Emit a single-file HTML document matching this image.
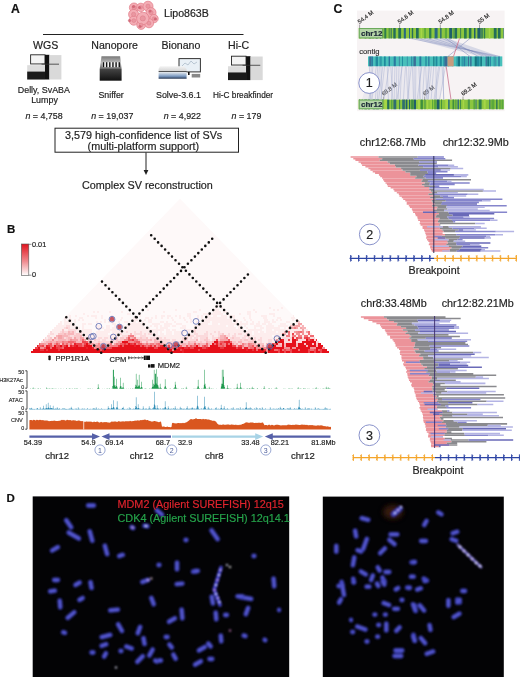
<!DOCTYPE html>
<html><head><meta charset="utf-8"><title>Figure</title>
<style>
html,body{margin:0;padding:0;background:#fff;}
body{width:520px;height:677px;overflow:hidden;position:relative;}
svg{position:absolute;left:0;top:0;display:block;}
text{font-family:"Liberation Sans",Arial,Helvetica,sans-serif;}
</style></head><body>
<svg width="520" height="677" viewBox="0 0 520 677">
<rect width="520" height="677" fill="#fff"/>
<text x="11" y="13.3" font-size="12.2" fill="#111" stroke="#111" stroke-width="0.18" font-weight="bold">A</text>
<g>
<circle cx="134" cy="7.6" r="4.6" fill="#f3adb5" stroke="#e3838e" stroke-width="0.8"/>
<circle cx="140.8" cy="7.4" r="4.2" fill="#f3adb5" stroke="#e3838e" stroke-width="0.8"/>
<circle cx="148" cy="6.2" r="5" fill="#f3adb5" stroke="#e3838e" stroke-width="0.8"/>
<circle cx="151" cy="12.6" r="5" fill="#f3adb5" stroke="#e3838e" stroke-width="0.8"/>
<circle cx="154" cy="18.6" r="4.2" fill="#f3adb5" stroke="#e3838e" stroke-width="0.8"/>
<circle cx="133.6" cy="14.4" r="5" fill="#f3adb5" stroke="#e3838e" stroke-width="0.8"/>
<circle cx="133.8" cy="20.6" r="4.6" fill="#f3adb5" stroke="#e3838e" stroke-width="0.8"/>
<circle cx="141.2" cy="25" r="4.4" fill="#f3adb5" stroke="#e3838e" stroke-width="0.8"/>
<circle cx="149" cy="23.2" r="4.6" fill="#f3adb5" stroke="#e3838e" stroke-width="0.8"/>
<circle cx="142.8" cy="18.4" r="6.2" fill="#f3adb5" stroke="#e3838e" stroke-width="0.8"/>
<circle cx="134" cy="7.6" r="1.93" fill="#ea97a1" stroke="#dd7a86" stroke-width="0.5"/>
<circle cx="140.8" cy="7.4" r="1.76" fill="#ea97a1" stroke="#dd7a86" stroke-width="0.5"/>
<circle cx="148" cy="6.2" r="2.10" fill="#ea97a1" stroke="#dd7a86" stroke-width="0.5"/>
<circle cx="151" cy="12.6" r="2.10" fill="#ea97a1" stroke="#dd7a86" stroke-width="0.5"/>
<circle cx="154" cy="18.6" r="1.76" fill="#ea97a1" stroke="#dd7a86" stroke-width="0.5"/>
<circle cx="133.6" cy="14.4" r="2.10" fill="#ea97a1" stroke="#dd7a86" stroke-width="0.5"/>
<circle cx="133.8" cy="20.6" r="1.93" fill="#ea97a1" stroke="#dd7a86" stroke-width="0.5"/>
<circle cx="141.2" cy="25" r="1.85" fill="#ea97a1" stroke="#dd7a86" stroke-width="0.5"/>
<circle cx="149" cy="23.2" r="1.93" fill="#ea97a1" stroke="#dd7a86" stroke-width="0.5"/>
<circle cx="142.8" cy="18.4" r="2.60" fill="#ea97a1" stroke="#dd7a86" stroke-width="0.5"/>
<circle cx="133.5" cy="6.5" r="1.6" fill="#c85565" opacity="0.65"/>
<circle cx="129.5" cy="20.5" r="1.6" fill="#c85565" opacity="0.65"/>
<circle cx="140" cy="26.5" r="1.6" fill="#c85565" opacity="0.65"/>
<circle cx="155.5" cy="19" r="1.6" fill="#c85565" opacity="0.65"/>
<circle cx="139.5" cy="7.5" r="1.6" fill="#c85565" opacity="0.65"/>
<circle cx="150" cy="11" r="1.6" fill="#c85565" opacity="0.65"/>
</g>
<text x="164" y="17" font-size="10.6" fill="#222" stroke="#222" stroke-width="0.18">Lipo863B</text>
<line x1="43" y1="34.5" x2="243.5" y2="34.5" stroke="#222" stroke-width="1"/>
<text x="33" y="48.8" font-size="10.6" fill="#222" stroke="#222" stroke-width="0.18">WGS</text>
<text x="91.3" y="48.8" font-size="10.6" fill="#222" stroke="#222" stroke-width="0.18">Nanopore</text>
<text x="161.5" y="48.8" font-size="10.6" fill="#222" stroke="#222" stroke-width="0.18">Bionano</text>
<text x="228" y="48.8" font-size="10.6" fill="#222" stroke="#222" stroke-width="0.18">Hi-C</text>
<rect x="27.2" y="65.17399999999999" width="17.784000000000002" height="14.326" fill="#dcdcdc"/><rect x="27.2" y="71.596" width="17.784000000000002" height="7.904000000000001" fill="#1a1a1a"/><rect x="30.62" y="54.8" width="14.364000000000003" height="9.139000000000001" fill="#f4f4f4" stroke="#222" stroke-width="0.9"/><rect x="44.984" y="54.8" width="4.446000000000005" height="24.700000000000003" fill="#111"/><rect x="49.43000000000001" y="55.099999999999994" width="11.969999999999992" height="24.400000000000002" fill="#d9d9d9"/><line x1="41.564" y1="64.18599999999999" x2="59.006" y2="64.18599999999999" stroke="#333" stroke-width="0.8"/>
<rect x="228.0" y="66.238" width="18.043999999999983" height="13.861999999999995" fill="#dcdcdc"/><rect x="228" y="72.452" width="18.043999999999983" height="7.647999999999997" fill="#1a1a1a"/><rect x="231.47" y="56.2" width="14.573999999999984" height="8.842999999999996" fill="#f4f4f4" stroke="#222" stroke-width="0.9"/><rect x="246.04399999999998" y="56.2" width="4.511000000000024" height="23.89999999999999" fill="#111"/><rect x="250.555" y="56.5" width="12.144999999999982" height="23.59999999999999" fill="#d9d9d9"/><line x1="242.57399999999998" y1="65.282" x2="260.271" y2="65.282" stroke="#333" stroke-width="0.8"/>
<defs><linearGradient id="np" x1="0" y1="0" x2="0" y2="1"><stop offset="0" stop-color="#777"/><stop offset="0.5" stop-color="#bbb"/><stop offset="1" stop-color="#666"/></linearGradient><linearGradient id="npb" x1="0" y1="0" x2="0" y2="1"><stop offset="0" stop-color="#444"/><stop offset="1" stop-color="#111"/></linearGradient></defs>
<path d="M101.5 56.2 L120.1 56.2 L121.6 69 L99.7 69 Z" fill="url(#np)"/>
<rect x="102.5" y="62.2" width="17" height="5" fill="#f2f2f2"/>
<rect x="102.8" y="62.2" width="1.4" height="5" fill="#111"/>
<rect x="105.95" y="62.2" width="1.4" height="5" fill="#111"/>
<rect x="109.1" y="62.2" width="1.4" height="5" fill="#111"/>
<rect x="112.25" y="62.2" width="1.4" height="5" fill="#111"/>
<rect x="115.39999999999999" y="62.2" width="1.4" height="5" fill="#111"/>
<rect x="118.55" y="62.2" width="1.4" height="5" fill="#111"/>
<rect x="99.7" y="69" width="21.9" height="11.7" fill="url(#npb)"/>
<rect x="179" y="58.6" width="21.4" height="13.3" fill="#e9f0f6" stroke="#333" stroke-width="1"/>
<polyline points="182,66 185,63 188,65 191,61 194,64 197,62" fill="none" stroke="#9ab" stroke-width="0.6"/>
<rect x="188" y="72" width="1.6" height="3" fill="#111"/>
<rect x="191.7" y="73.9" width="8.5" height="3.6" fill="#888"/>
<defs><linearGradient id="bn" x1="0" y1="0" x2="0" y2="1"><stop offset="0" stop-color="#f3f3f3"/><stop offset="0.35" stop-color="#d8d8d8"/><stop offset="0.4" stop-color="#333"/><stop offset="0.5" stop-color="#dde3ea"/><stop offset="0.8" stop-color="#7d9cc4"/><stop offset="1" stop-color="#2a3a55"/></linearGradient></defs>
<path d="M160 66.3 L184 66.3 L186.6 69 L186.6 78.7 L158.6 78.7 L158.6 69 Z" fill="url(#bn)"/>
<text x="17.8" y="93.1" font-size="8.9" fill="#222" stroke="#222" stroke-width="0.18">Delly, SvABA</text>
<text x="31.2" y="102.8" font-size="8.9" fill="#222" stroke="#222" stroke-width="0.18">Lumpy</text>
<text x="98.5" y="97.7" font-size="8.8" fill="#222" stroke="#222" stroke-width="0.18">Sniffer</text>
<text x="156" y="97.6" font-size="8.9" fill="#222" stroke="#222" stroke-width="0.18">Solve-3.6.1</text>
<text x="213" y="97.6" font-size="8.25" fill="#222" stroke="#222" stroke-width="0.18">Hi-C breakfinder</text>
<text x="25.4" y="118.9" font-size="8.9" fill="#222" stroke="#222" stroke-width="0.18"><tspan font-style="italic">n</tspan> = 4,758</text>
<text x="91.2" y="118.9" font-size="8.9" fill="#222" stroke="#222" stroke-width="0.18"><tspan font-style="italic">n</tspan> = 19,037</text>
<text x="163.7" y="118.9" font-size="8.9" fill="#222" stroke="#222" stroke-width="0.18"><tspan font-style="italic">n</tspan> = 4,922</text>
<text x="231.5" y="118.9" font-size="8.9" fill="#222" stroke="#222" stroke-width="0.18"><tspan font-style="italic">n</tspan> = 179</text>
<rect x="55" y="128.2" width="183.5" height="24" fill="none" stroke="#222" stroke-width="1"/>
<text x="65" y="138.5" font-size="10.8" fill="#222" stroke="#222" stroke-width="0.18">3,579 high-confidence list of SVs</text>
<text x="87.6" y="150.2" font-size="10.8" fill="#222" stroke="#222" stroke-width="0.18">(multi-platform support)</text>
<line x1="146" y1="152.5" x2="146" y2="171" stroke="#222" stroke-width="1"/>
<path d="M143.6 170 L148.4 170 L146 175 Z" fill="#222"/>
<text x="82" y="188.8" font-size="10.8" fill="#222" stroke="#222" stroke-width="0.18">Complex SV reconstruction</text>
<text x="7" y="232.7" font-size="11.5" fill="#111" stroke="#111" stroke-width="0.18" font-weight="bold">B</text>
<defs><linearGradient id="cb" x1="0" y1="0" x2="0" y2="1"><stop offset="0" stop-color="#e0141e"/><stop offset="0.55" stop-color="#f08a8f"/><stop offset="1" stop-color="#ffffff"/></linearGradient></defs>
<rect x="21.4" y="244" width="7.4" height="31.5" fill="url(#cb)" stroke="#555" stroke-width="0.6"/>
<line x1="28.8" y1="244.3" x2="31.5" y2="244.3" stroke="#444" stroke-width="0.6"/>
<line x1="28.8" y1="275.2" x2="31.5" y2="275.2" stroke="#444" stroke-width="0.6"/>
<text x="32" y="247" font-size="7.3" fill="#222" stroke="#222" stroke-width="0.18">0.01</text>
<text x="32" y="276.7" font-size="7.3" fill="#222" stroke="#222" stroke-width="0.18">0</text>
<path d="M30.0 353.2L180.0 198.7L330.0 353.2Z" fill="#fef9f9"/>
<g shape-rendering="crispEdges">
<path fill="#fdeded" d="M174.0 343.2h2.0v2h-2.0zM264.0 343.2h2.0v2h-2.0zM256.0 341.2h4.0v2h-4.0zM262.0 341.2h6.0v2h-6.0zM272.0 341.2h6.0v2h-6.0zM86.0 339.2h2.0v2h-2.0zM92.0 339.2h2.0v2h-2.0zM100.0 339.2h2.0v2h-2.0zM106.0 339.2h4.0v2h-4.0zM170.0 339.2h2.0v2h-2.0zM176.0 339.2h6.0v2h-6.0zM188.0 339.2h2.0v2h-2.0zM198.0 339.2h2.0v2h-2.0zM210.0 339.2h2.0v2h-2.0zM256.0 339.2h2.0v2h-2.0zM262.0 339.2h6.0v2h-6.0zM272.0 339.2h2.0v2h-2.0zM278.0 339.2h2.0v2h-2.0zM46.0 337.2h2.0v2h-2.0zM52.0 337.2h2.0v2h-2.0zM86.0 337.2h2.0v2h-2.0zM90.0 337.2h8.0v2h-8.0zM102.0 337.2h2.0v2h-2.0zM108.0 337.2h2.0v2h-2.0zM112.0 337.2h4.0v2h-4.0zM118.0 337.2h2.0v2h-2.0zM148.0 337.2h2.0v2h-2.0zM162.0 337.2h2.0v2h-2.0zM166.0 337.2h16.0v2h-16.0zM184.0 337.2h2.0v2h-2.0zM188.0 337.2h2.0v2h-2.0zM192.0 337.2h2.0v2h-2.0zM198.0 337.2h2.0v2h-2.0zM208.0 337.2h4.0v2h-4.0zM228.0 337.2h2.0v2h-2.0zM240.0 337.2h2.0v2h-2.0zM246.0 337.2h2.0v2h-2.0zM250.0 337.2h4.0v2h-4.0zM256.0 337.2h4.0v2h-4.0zM262.0 337.2h20.0v2h-20.0zM50.0 335.2h6.0v2h-6.0zM82.0 335.2h40.0v2h-40.0zM136.0 335.2h4.0v2h-4.0zM146.0 335.2h42.0v2h-42.0zM194.0 335.2h2.0v2h-2.0zM208.0 335.2h4.0v2h-4.0zM214.0 335.2h4.0v2h-4.0zM230.0 335.2h2.0v2h-2.0zM236.0 335.2h8.0v2h-8.0zM250.0 335.2h22.0v2h-22.0zM274.0 335.2h12.0v2h-12.0zM290.0 335.2h2.0v2h-2.0zM296.0 335.2h2.0v2h-2.0zM302.0 335.2h2.0v2h-2.0zM308.0 335.2h2.0v2h-2.0zM48.4 333.2h1.6v2h-1.6zM54.0 333.2h4.0v2h-4.0zM82.0 333.2h10.0v2h-10.0zM94.0 333.2h14.0v2h-14.0zM112.0 333.2h6.0v2h-6.0zM122.0 333.2h8.0v2h-8.0zM132.0 333.2h2.0v2h-2.0zM142.0 333.2h2.0v2h-2.0zM146.0 333.2h2.0v2h-2.0zM152.0 333.2h6.0v2h-6.0zM160.0 333.2h4.0v2h-4.0zM166.0 333.2h6.0v2h-6.0zM174.0 333.2h10.0v2h-10.0zM188.0 333.2h6.0v2h-6.0zM198.0 333.2h6.0v2h-6.0zM208.0 333.2h2.0v2h-2.0zM212.0 333.2h6.0v2h-6.0zM224.0 333.2h4.0v2h-4.0zM230.0 333.2h4.0v2h-4.0zM236.0 333.2h2.0v2h-2.0zM242.0 333.2h4.0v2h-4.0zM248.0 333.2h4.0v2h-4.0zM254.0 333.2h28.0v2h-28.0zM286.0 333.2h2.0v2h-2.0zM290.0 333.2h2.0v2h-2.0zM294.0 333.2h2.0v2h-2.0zM300.0 333.2h2.0v2h-2.0zM304.0 333.2h4.0v2h-4.0zM310.0 333.2h1.6v2h-1.6zM52.0 331.2h8.0v2h-8.0zM76.0 331.2h4.0v2h-4.0zM82.0 331.2h10.0v2h-10.0zM96.0 331.2h14.0v2h-14.0zM112.0 331.2h14.0v2h-14.0zM128.0 331.2h6.0v2h-6.0zM136.0 331.2h4.0v2h-4.0zM142.0 331.2h16.0v2h-16.0zM160.0 331.2h2.0v2h-2.0zM166.0 331.2h6.0v2h-6.0zM174.0 331.2h12.0v2h-12.0zM188.0 331.2h2.0v2h-2.0zM192.0 331.2h2.0v2h-2.0zM196.0 331.2h10.0v2h-10.0zM208.0 331.2h6.0v2h-6.0zM216.0 331.2h2.0v2h-2.0zM220.0 331.2h32.0v2h-32.0zM254.0 331.2h4.0v2h-4.0zM260.0 331.2h4.0v2h-4.0zM266.0 331.2h10.0v2h-10.0zM278.0 331.2h6.0v2h-6.0zM286.0 331.2h2.0v2h-2.0zM290.0 331.2h4.0v2h-4.0zM304.0 331.2h2.0v2h-2.0zM52.3 329.2h9.7v2h-9.7zM64.0 329.2h4.0v2h-4.0zM76.0 329.2h4.0v2h-4.0zM82.0 329.2h10.0v2h-10.0zM98.0 329.2h2.0v2h-2.0zM104.0 329.2h18.0v2h-18.0zM124.0 329.2h40.0v2h-40.0zM166.0 329.2h4.0v2h-4.0zM172.0 329.2h4.0v2h-4.0zM184.0 329.2h10.0v2h-10.0zM196.0 329.2h48.0v2h-48.0zM248.0 329.2h14.0v2h-14.0zM266.0 329.2h6.0v2h-6.0zM274.0 329.2h28.0v2h-28.0zM304.0 329.2h3.7v2h-3.7zM54.3 327.2h9.7v2h-9.7zM70.0 327.2h10.0v2h-10.0zM82.0 327.2h2.0v2h-2.0zM96.0 327.2h8.0v2h-8.0zM106.0 327.2h4.0v2h-4.0zM112.0 327.2h8.0v2h-8.0zM122.0 327.2h2.0v2h-2.0zM126.0 327.2h20.0v2h-20.0zM148.0 327.2h2.0v2h-2.0zM156.0 327.2h2.0v2h-2.0zM160.0 327.2h8.0v2h-8.0zM180.0 327.2h6.0v2h-6.0zM194.0 327.2h42.0v2h-42.0zM238.0 327.2h4.0v2h-4.0zM246.0 327.2h2.0v2h-2.0zM254.0 327.2h2.0v2h-2.0zM260.0 327.2h4.0v2h-4.0zM266.0 327.2h14.0v2h-14.0zM284.0 327.2h2.0v2h-2.0zM298.0 327.2h2.0v2h-2.0zM56.2 325.2h9.8v2h-9.8zM70.0 325.2h6.0v2h-6.0zM82.0 325.2h2.0v2h-2.0zM96.0 325.2h4.0v2h-4.0zM106.0 325.2h4.0v2h-4.0zM114.0 325.2h6.0v2h-6.0zM122.0 325.2h2.0v2h-2.0zM126.0 325.2h18.0v2h-18.0zM150.0 325.2h2.0v2h-2.0zM154.0 325.2h4.0v2h-4.0zM160.0 325.2h2.0v2h-2.0zM164.0 325.2h6.0v2h-6.0zM172.0 325.2h4.0v2h-4.0zM182.0 325.2h4.0v2h-4.0zM194.0 325.2h32.0v2h-32.0zM228.0 325.2h6.0v2h-6.0zM238.0 325.2h4.0v2h-4.0zM244.0 325.2h2.0v2h-2.0zM254.0 325.2h8.0v2h-8.0zM266.0 325.2h8.0v2h-8.0zM278.0 325.2h10.0v2h-10.0zM300.0 325.2h2.0v2h-2.0zM58.2 323.2h3.8v2h-3.8zM64.0 323.2h10.0v2h-10.0zM82.0 323.2h4.0v2h-4.0zM88.0 323.2h4.0v2h-4.0zM112.0 323.2h4.0v2h-4.0zM128.0 323.2h18.0v2h-18.0zM152.0 323.2h8.0v2h-8.0zM164.0 323.2h8.0v2h-8.0zM176.0 323.2h6.0v2h-6.0zM200.0 323.2h8.0v2h-8.0zM212.0 323.2h6.0v2h-6.0zM220.0 323.2h28.0v2h-28.0zM250.0 323.2h4.0v2h-4.0zM256.0 323.2h4.0v2h-4.0zM262.0 323.2h4.0v2h-4.0zM268.0 323.2h4.0v2h-4.0zM280.0 323.2h6.0v2h-6.0zM290.0 323.2h2.0v2h-2.0zM296.0 323.2h2.0v2h-2.0zM60.1 321.2h1.9v2h-1.9zM64.0 321.2h8.0v2h-8.0zM74.0 321.2h2.0v2h-2.0zM96.0 321.2h2.0v2h-2.0zM100.0 321.2h2.0v2h-2.0zM104.0 321.2h2.0v2h-2.0zM108.0 321.2h2.0v2h-2.0zM112.0 321.2h2.0v2h-2.0zM118.0 321.2h2.0v2h-2.0zM124.0 321.2h4.0v2h-4.0zM132.0 321.2h4.0v2h-4.0zM138.0 321.2h2.0v2h-2.0zM142.0 321.2h2.0v2h-2.0zM148.0 321.2h4.0v2h-4.0zM160.0 321.2h4.0v2h-4.0zM166.0 321.2h2.0v2h-2.0zM174.0 321.2h2.0v2h-2.0zM186.0 321.2h2.0v2h-2.0zM190.0 321.2h2.0v2h-2.0zM196.0 321.2h4.0v2h-4.0zM202.0 321.2h8.0v2h-8.0zM212.0 321.2h20.0v2h-20.0zM234.0 321.2h4.0v2h-4.0zM240.0 321.2h2.0v2h-2.0zM246.0 321.2h2.0v2h-2.0zM252.0 321.2h2.0v2h-2.0zM258.0 321.2h2.0v2h-2.0zM264.0 321.2h6.0v2h-6.0zM272.0 321.2h4.0v2h-4.0zM286.0 321.2h4.0v2h-4.0zM64.0 319.2h2.0v2h-2.0zM68.0 319.2h4.0v2h-4.0zM74.0 319.2h2.0v2h-2.0zM78.0 319.2h2.0v2h-2.0zM82.0 319.2h2.0v2h-2.0zM104.0 319.2h2.0v2h-2.0zM112.0 319.2h2.0v2h-2.0zM120.0 319.2h2.0v2h-2.0zM132.0 319.2h6.0v2h-6.0zM144.0 319.2h2.0v2h-2.0zM148.0 319.2h4.0v2h-4.0zM172.0 319.2h2.0v2h-2.0zM184.0 319.2h2.0v2h-2.0zM190.0 319.2h2.0v2h-2.0zM202.0 319.2h30.0v2h-30.0zM236.0 319.2h2.0v2h-2.0zM244.0 319.2h2.0v2h-2.0zM250.0 319.2h2.0v2h-2.0zM264.0 319.2h4.0v2h-4.0zM272.0 319.2h2.0v2h-2.0zM276.0 319.2h2.0v2h-2.0zM280.0 319.2h2.0v2h-2.0zM292.0 319.2h2.0v2h-2.0zM64.0 317.2h3.0v2h-3.0zM69.0 317.2h2.0v2h-2.0zM79.0 317.2h4.0v2h-4.0zM95.0 317.2h2.0v2h-2.0zM101.0 317.2h2.0v2h-2.0zM111.0 317.2h2.0v2h-2.0zM121.0 317.2h2.0v2h-2.0zM133.0 317.2h4.0v2h-4.0zM145.0 317.2h4.0v2h-4.0zM151.0 317.2h2.0v2h-2.0zM155.0 317.2h2.0v2h-2.0zM161.0 317.2h2.0v2h-2.0zM167.0 317.2h2.0v2h-2.0zM171.0 317.2h2.0v2h-2.0zM179.0 317.2h2.0v2h-2.0zM183.0 317.2h2.0v2h-2.0zM189.0 317.2h2.0v2h-2.0zM197.0 317.2h2.0v2h-2.0zM201.0 317.2h2.0v2h-2.0zM205.0 317.2h22.0v2h-22.0zM229.0 317.2h2.0v2h-2.0zM233.0 317.2h2.0v2h-2.0zM243.0 317.2h2.0v2h-2.0zM249.0 317.2h2.0v2h-2.0zM263.0 317.2h4.0v2h-4.0zM277.0 317.2h4.0v2h-4.0zM291.0 317.2h4.0v2h-4.0zM65.9 315.2h1.1v2h-1.1zM69.0 315.2h2.0v2h-2.0zM75.0 315.2h2.0v2h-2.0zM87.0 315.2h2.0v2h-2.0zM91.0 315.2h6.0v2h-6.0zM101.0 315.2h2.0v2h-2.0zM111.0 315.2h2.0v2h-2.0zM139.0 315.2h2.0v2h-2.0zM155.0 315.2h2.0v2h-2.0zM161.0 315.2h4.0v2h-4.0zM167.0 315.2h4.0v2h-4.0zM175.0 315.2h2.0v2h-2.0zM179.0 315.2h2.0v2h-2.0zM187.0 315.2h4.0v2h-4.0zM197.0 315.2h2.0v2h-2.0zM201.0 315.2h2.0v2h-2.0zM207.0 315.2h4.0v2h-4.0zM213.0 315.2h4.0v2h-4.0zM221.0 315.2h6.0v2h-6.0zM229.0 315.2h6.0v2h-6.0zM249.0 315.2h2.0v2h-2.0zM261.0 315.2h6.0v2h-6.0zM273.0 315.2h2.0v2h-2.0zM293.0 315.2h1.1v2h-1.1zM83.0 313.2h2.0v2h-2.0zM127.0 313.2h4.0v2h-4.0zM187.0 313.2h4.0v2h-4.0zM203.0 313.2h20.0v2h-20.0zM227.0 313.2h2.0v2h-2.0zM239.0 313.2h2.0v2h-2.0zM247.0 313.2h4.0v2h-4.0zM269.0 313.2h6.0v2h-6.0zM93.0 311.2h2.0v2h-2.0zM97.0 311.2h2.0v2h-2.0zM109.0 311.2h2.0v2h-2.0zM121.0 311.2h2.0v2h-2.0zM163.0 311.2h2.0v2h-2.0zM193.0 311.2h4.0v2h-4.0zM213.0 311.2h8.0v2h-8.0zM223.0 311.2h4.0v2h-4.0zM247.0 311.2h4.0v2h-4.0zM255.0 311.2h2.0v2h-2.0zM147.0 309.2h2.0v2h-2.0zM175.0 309.2h2.0v2h-2.0zM199.0 309.2h2.0v2h-2.0zM215.0 309.2h4.0v2h-4.0zM223.0 309.2h2.0v2h-2.0zM253.0 309.2h2.0v2h-2.0zM273.0 309.2h2.0v2h-2.0zM277.0 309.2h2.0v2h-2.0zM215.0 307.2h2.0v2h-2.0zM221.0 307.2h2.0v2h-2.0zM269.0 307.2h2.0v2h-2.0zM281.0 307.2h2.0v2h-2.0zM217.0 305.2h2.0v2h-2.0z"/>
<path fill="#fbdadc" d="M104.0 345.2h2.0v2h-2.0zM176.0 345.2h2.0v2h-2.0zM264.0 345.2h2.0v2h-2.0zM104.0 343.2h2.0v2h-2.0zM112.0 343.2h2.0v2h-2.0zM166.0 343.2h2.0v2h-2.0zM176.0 343.2h2.0v2h-2.0zM238.0 343.2h2.0v2h-2.0zM256.0 343.2h2.0v2h-2.0zM270.0 343.2h2.0v2h-2.0zM40.7 341.2h3.3v2h-3.3zM92.0 341.2h6.0v2h-6.0zM100.0 341.2h10.0v2h-10.0zM112.0 341.2h4.0v2h-4.0zM142.0 341.2h4.0v2h-4.0zM148.0 341.2h6.0v2h-6.0zM160.0 341.2h28.0v2h-28.0zM196.0 341.2h4.0v2h-4.0zM202.0 341.2h4.0v2h-4.0zM236.0 341.2h2.0v2h-2.0zM242.0 341.2h6.0v2h-6.0zM260.0 341.2h2.0v2h-2.0zM268.0 341.2h4.0v2h-4.0zM284.0 341.2h8.0v2h-8.0zM296.0 341.2h6.0v2h-6.0zM316.0 341.2h3.3v2h-3.3zM44.0 339.2h4.0v2h-4.0zM90.0 339.2h2.0v2h-2.0zM96.0 339.2h4.0v2h-4.0zM102.0 339.2h4.0v2h-4.0zM110.0 339.2h6.0v2h-6.0zM118.0 339.2h2.0v2h-2.0zM152.0 339.2h2.0v2h-2.0zM158.0 339.2h12.0v2h-12.0zM172.0 339.2h4.0v2h-4.0zM182.0 339.2h2.0v2h-2.0zM186.0 339.2h2.0v2h-2.0zM190.0 339.2h6.0v2h-6.0zM200.0 339.2h4.0v2h-4.0zM208.0 339.2h2.0v2h-2.0zM212.0 339.2h2.0v2h-2.0zM230.0 339.2h10.0v2h-10.0zM242.0 339.2h2.0v2h-2.0zM248.0 339.2h4.0v2h-4.0zM254.0 339.2h2.0v2h-2.0zM258.0 339.2h4.0v2h-4.0zM268.0 339.2h4.0v2h-4.0zM274.0 339.2h2.0v2h-2.0zM284.0 339.2h4.0v2h-4.0zM290.0 339.2h2.0v2h-2.0zM298.0 339.2h8.0v2h-8.0zM314.0 339.2h2.0v2h-2.0zM44.6 337.2h1.4v2h-1.4zM48.0 337.2h2.0v2h-2.0zM64.0 337.2h2.0v2h-2.0zM72.0 337.2h2.0v2h-2.0zM84.0 337.2h2.0v2h-2.0zM88.0 337.2h2.0v2h-2.0zM98.0 337.2h4.0v2h-4.0zM104.0 337.2h4.0v2h-4.0zM110.0 337.2h2.0v2h-2.0zM124.0 337.2h2.0v2h-2.0zM136.0 337.2h4.0v2h-4.0zM142.0 337.2h4.0v2h-4.0zM150.0 337.2h12.0v2h-12.0zM164.0 337.2h2.0v2h-2.0zM182.0 337.2h2.0v2h-2.0zM190.0 337.2h2.0v2h-2.0zM194.0 337.2h4.0v2h-4.0zM200.0 337.2h6.0v2h-6.0zM212.0 337.2h6.0v2h-6.0zM230.0 337.2h2.0v2h-2.0zM234.0 337.2h6.0v2h-6.0zM242.0 337.2h4.0v2h-4.0zM248.0 337.2h2.0v2h-2.0zM254.0 337.2h2.0v2h-2.0zM260.0 337.2h2.0v2h-2.0zM282.0 337.2h10.0v2h-10.0zM294.0 337.2h2.0v2h-2.0zM302.0 337.2h2.0v2h-2.0zM310.0 337.2h5.4v2h-5.4zM46.5 335.2h3.5v2h-3.5zM70.0 335.2h4.0v2h-4.0zM122.0 335.2h6.0v2h-6.0zM134.0 335.2h2.0v2h-2.0zM140.0 335.2h6.0v2h-6.0zM188.0 335.2h6.0v2h-6.0zM196.0 335.2h12.0v2h-12.0zM212.0 335.2h2.0v2h-2.0zM218.0 335.2h2.0v2h-2.0zM226.0 335.2h4.0v2h-4.0zM232.0 335.2h4.0v2h-4.0zM244.0 335.2h6.0v2h-6.0zM50.0 333.2h4.0v2h-4.0zM74.0 333.2h2.0v2h-2.0zM80.0 333.2h2.0v2h-2.0zM120.0 333.2h2.0v2h-2.0zM134.0 333.2h8.0v2h-8.0zM144.0 333.2h2.0v2h-2.0zM148.0 333.2h4.0v2h-4.0zM194.0 333.2h4.0v2h-4.0zM204.0 333.2h4.0v2h-4.0zM210.0 333.2h2.0v2h-2.0zM218.0 333.2h4.0v2h-4.0zM228.0 333.2h2.0v2h-2.0zM234.0 333.2h2.0v2h-2.0zM238.0 333.2h4.0v2h-4.0zM246.0 333.2h2.0v2h-2.0zM50.4 331.2h1.6v2h-1.6zM60.0 331.2h2.0v2h-2.0zM64.0 331.2h4.0v2h-4.0zM74.0 331.2h2.0v2h-2.0zM80.0 331.2h2.0v2h-2.0zM126.0 331.2h2.0v2h-2.0zM134.0 331.2h2.0v2h-2.0zM140.0 331.2h2.0v2h-2.0zM194.0 331.2h2.0v2h-2.0zM206.0 331.2h2.0v2h-2.0zM214.0 331.2h2.0v2h-2.0zM218.0 331.2h2.0v2h-2.0zM68.0 329.2h8.0v2h-8.0zM194.0 329.2h2.0v2h-2.0zM64.0 327.2h2.0v2h-2.0zM68.0 327.2h2.0v2h-2.0zM66.0 325.2h4.0v2h-4.0zM296.0 321.2h2.0v2h-2.0zM296.0 319.2h2.0v2h-2.0z"/>
<path fill="#f9c8ca" d="M100.0 345.2h2.0v2h-2.0zM106.0 345.2h2.0v2h-2.0zM164.0 345.2h2.0v2h-2.0zM260.0 345.2h2.0v2h-2.0zM270.0 345.2h2.0v2h-2.0zM60.0 343.2h2.0v2h-2.0zM94.0 343.2h2.0v2h-2.0zM100.0 343.2h4.0v2h-4.0zM106.0 343.2h2.0v2h-2.0zM164.0 343.2h2.0v2h-2.0zM178.0 343.2h4.0v2h-4.0zM186.0 343.2h2.0v2h-2.0zM210.0 343.2h2.0v2h-2.0zM234.0 343.2h2.0v2h-2.0zM240.0 343.2h2.0v2h-2.0zM260.0 343.2h4.0v2h-4.0zM280.0 343.2h2.0v2h-2.0zM304.0 343.2h2.0v2h-2.0zM312.0 343.2h2.0v2h-2.0zM316.0 343.2h2.0v2h-2.0zM44.0 341.2h2.0v2h-2.0zM98.0 341.2h2.0v2h-2.0zM110.0 341.2h2.0v2h-2.0zM116.0 341.2h2.0v2h-2.0zM190.0 341.2h4.0v2h-4.0zM200.0 341.2h2.0v2h-2.0zM208.0 341.2h4.0v2h-4.0zM232.0 341.2h4.0v2h-4.0zM248.0 341.2h6.0v2h-6.0zM48.0 339.2h4.0v2h-4.0zM54.0 339.2h4.0v2h-4.0zM66.0 339.2h2.0v2h-2.0zM78.0 339.2h2.0v2h-2.0zM88.0 339.2h2.0v2h-2.0zM94.0 339.2h2.0v2h-2.0zM116.0 339.2h2.0v2h-2.0zM120.0 339.2h4.0v2h-4.0zM140.0 339.2h10.0v2h-10.0zM156.0 339.2h2.0v2h-2.0zM204.0 339.2h4.0v2h-4.0zM214.0 339.2h2.0v2h-2.0zM218.0 339.2h2.0v2h-2.0zM240.0 339.2h2.0v2h-2.0zM244.0 339.2h4.0v2h-4.0zM252.0 339.2h2.0v2h-2.0zM50.0 337.2h2.0v2h-2.0zM56.0 337.2h2.0v2h-2.0zM66.0 337.2h2.0v2h-2.0zM76.0 337.2h4.0v2h-4.0zM116.0 337.2h2.0v2h-2.0zM120.0 337.2h4.0v2h-4.0zM140.0 337.2h2.0v2h-2.0zM146.0 337.2h2.0v2h-2.0zM186.0 337.2h2.0v2h-2.0zM206.0 337.2h2.0v2h-2.0zM218.0 337.2h2.0v2h-2.0zM232.0 337.2h2.0v2h-2.0zM68.0 335.2h2.0v2h-2.0zM74.0 335.2h6.0v2h-6.0zM58.0 333.2h6.0v2h-6.0zM66.0 333.2h2.0v2h-2.0zM76.0 333.2h4.0v2h-4.0zM222.0 333.2h2.0v2h-2.0zM62.0 331.2h2.0v2h-2.0zM70.0 331.2h2.0v2h-2.0zM62.0 329.2h2.0v2h-2.0zM66.0 327.2h2.0v2h-2.0zM288.0 327.2h4.0v2h-4.0zM290.0 325.2h4.0v2h-4.0zM298.0 321.2h1.9v2h-1.9z"/>
<path fill="#f7b5b9" d="M170.0 345.2h2.0v2h-2.0zM182.0 345.2h4.0v2h-4.0zM200.0 345.2h2.0v2h-2.0zM208.0 345.2h2.0v2h-2.0zM236.0 345.2h2.0v2h-2.0zM244.0 345.2h4.0v2h-4.0zM254.0 345.2h2.0v2h-2.0zM266.0 345.2h2.0v2h-2.0zM276.0 345.2h6.0v2h-6.0zM284.0 345.2h2.0v2h-2.0zM296.0 345.2h2.0v2h-2.0zM306.0 345.2h2.0v2h-2.0zM316.0 345.2h2.0v2h-2.0zM46.0 343.2h2.0v2h-2.0zM52.0 343.2h2.0v2h-2.0zM96.0 343.2h2.0v2h-2.0zM108.0 343.2h2.0v2h-2.0zM162.0 343.2h2.0v2h-2.0zM170.0 343.2h2.0v2h-2.0zM182.0 343.2h4.0v2h-4.0zM190.0 343.2h4.0v2h-4.0zM196.0 343.2h2.0v2h-2.0zM200.0 343.2h6.0v2h-6.0zM208.0 343.2h2.0v2h-2.0zM236.0 343.2h2.0v2h-2.0zM246.0 343.2h2.0v2h-2.0zM254.0 343.2h2.0v2h-2.0zM258.0 343.2h2.0v2h-2.0zM266.0 343.2h4.0v2h-4.0zM278.0 343.2h2.0v2h-2.0zM284.0 343.2h2.0v2h-2.0zM296.0 343.2h2.0v2h-2.0zM46.0 341.2h4.0v2h-4.0zM52.0 341.2h4.0v2h-4.0zM76.0 341.2h6.0v2h-6.0zM88.0 341.2h4.0v2h-4.0zM140.0 341.2h2.0v2h-2.0zM146.0 341.2h2.0v2h-2.0zM154.0 341.2h6.0v2h-6.0zM188.0 341.2h2.0v2h-2.0zM194.0 341.2h2.0v2h-2.0zM206.0 341.2h2.0v2h-2.0zM212.0 341.2h2.0v2h-2.0zM238.0 341.2h4.0v2h-4.0zM254.0 341.2h2.0v2h-2.0zM42.6 339.2h1.4v2h-1.4zM58.0 339.2h8.0v2h-8.0zM68.0 339.2h2.0v2h-2.0zM138.0 339.2h2.0v2h-2.0zM150.0 339.2h2.0v2h-2.0zM154.0 339.2h2.0v2h-2.0zM184.0 339.2h2.0v2h-2.0zM196.0 339.2h2.0v2h-2.0zM62.0 337.2h2.0v2h-2.0zM68.0 337.2h4.0v2h-4.0zM130.0 337.2h2.0v2h-2.0zM220.0 337.2h4.0v2h-4.0zM56.0 335.2h2.0v2h-2.0zM62.0 335.2h6.0v2h-6.0zM80.0 335.2h2.0v2h-2.0zM220.0 335.2h4.0v2h-4.0zM64.0 333.2h2.0v2h-2.0zM68.0 333.2h6.0v2h-6.0zM130.0 333.2h2.0v2h-2.0zM284.0 333.2h2.0v2h-2.0zM68.0 331.2h2.0v2h-2.0zM72.0 331.2h2.0v2h-2.0zM284.0 331.2h2.0v2h-2.0zM302.0 327.2h3.7v2h-3.7zM294.0 325.2h2.0v2h-2.0zM302.0 325.2h1.8v2h-1.8z"/>
<path fill="#f5a3a7" d="M104.0 347.2h2.0v2h-2.0zM242.0 347.2h2.0v2h-2.0zM44.0 345.2h2.0v2h-2.0zM68.0 345.2h2.0v2h-2.0zM92.0 345.2h2.0v2h-2.0zM178.0 345.2h2.0v2h-2.0zM188.0 345.2h2.0v2h-2.0zM262.0 345.2h2.0v2h-2.0zM44.0 343.2h2.0v2h-2.0zM68.0 343.2h2.0v2h-2.0zM72.0 343.2h2.0v2h-2.0zM90.0 343.2h4.0v2h-4.0zM114.0 343.2h2.0v2h-2.0zM144.0 343.2h2.0v2h-2.0zM148.0 343.2h2.0v2h-2.0zM154.0 343.2h2.0v2h-2.0zM160.0 343.2h2.0v2h-2.0zM168.0 343.2h2.0v2h-2.0zM172.0 343.2h2.0v2h-2.0zM188.0 343.2h2.0v2h-2.0zM232.0 343.2h2.0v2h-2.0zM244.0 343.2h2.0v2h-2.0zM252.0 343.2h2.0v2h-2.0zM50.0 341.2h2.0v2h-2.0zM58.0 341.2h4.0v2h-4.0zM118.0 341.2h4.0v2h-4.0zM72.0 339.2h6.0v2h-6.0zM80.0 339.2h2.0v2h-2.0zM84.0 339.2h2.0v2h-2.0zM220.0 339.2h8.0v2h-8.0zM54.0 337.2h2.0v2h-2.0zM58.0 337.2h4.0v2h-4.0zM74.0 337.2h2.0v2h-2.0zM80.0 337.2h4.0v2h-4.0zM126.0 337.2h2.0v2h-2.0zM132.0 337.2h2.0v2h-2.0zM224.0 337.2h2.0v2h-2.0zM58.0 335.2h4.0v2h-4.0zM224.0 335.2h2.0v2h-2.0zM294.0 331.2h2.0v2h-2.0zM306.0 331.2h2.0v2h-2.0zM302.0 329.2h2.0v2h-2.0zM292.0 327.2h2.0v2h-2.0zM296.0 327.2h2.0v2h-2.0zM300.0 327.2h2.0v2h-2.0zM296.0 325.2h4.0v2h-4.0zM298.0 323.2h3.8v2h-3.8z"/>
<path fill="#f39195" d="M266.0 351.2h2.0v2h-2.0zM172.0 349.2h2.0v2h-2.0zM266.0 349.2h2.0v2h-2.0zM40.0 347.2h4.0v2h-4.0zM94.0 347.2h4.0v2h-4.0zM248.0 347.2h2.0v2h-2.0zM256.0 347.2h10.0v2h-10.0zM284.0 347.2h6.0v2h-6.0zM292.0 347.2h4.0v2h-4.0zM310.0 347.2h6.0v2h-6.0zM322.0 347.2h3.1v2h-3.1zM52.0 345.2h2.0v2h-2.0zM94.0 345.2h6.0v2h-6.0zM102.0 345.2h2.0v2h-2.0zM108.0 345.2h2.0v2h-2.0zM156.0 345.2h2.0v2h-2.0zM166.0 345.2h2.0v2h-2.0zM198.0 345.2h2.0v2h-2.0zM268.0 345.2h2.0v2h-2.0zM40.0 343.2h4.0v2h-4.0zM54.0 343.2h2.0v2h-2.0zM64.0 343.2h2.0v2h-2.0zM98.0 343.2h2.0v2h-2.0zM118.0 343.2h2.0v2h-2.0zM142.0 343.2h2.0v2h-2.0zM198.0 343.2h2.0v2h-2.0zM250.0 343.2h2.0v2h-2.0zM56.0 341.2h2.0v2h-2.0zM64.0 341.2h4.0v2h-4.0zM130.0 341.2h4.0v2h-4.0zM52.0 339.2h2.0v2h-2.0zM70.0 339.2h2.0v2h-2.0zM124.0 339.2h4.0v2h-4.0zM276.0 339.2h2.0v2h-2.0zM128.0 335.2h2.0v2h-2.0zM282.0 333.2h2.0v2h-2.0zM296.0 333.2h4.0v2h-4.0zM302.0 333.2h2.0v2h-2.0zM296.0 331.2h2.0v2h-2.0zM302.0 331.2h2.0v2h-2.0z"/>
<path fill="#f27e84" d="M98.0 347.2h2.0v2h-2.0zM110.0 345.2h8.0v2h-8.0zM146.0 345.2h2.0v2h-2.0zM152.0 345.2h2.0v2h-2.0zM192.0 345.2h2.0v2h-2.0zM224.0 345.2h2.0v2h-2.0zM242.0 345.2h2.0v2h-2.0zM248.0 345.2h4.0v2h-4.0zM256.0 345.2h4.0v2h-4.0zM58.0 343.2h2.0v2h-2.0zM82.0 343.2h2.0v2h-2.0zM110.0 343.2h2.0v2h-2.0zM116.0 343.2h2.0v2h-2.0zM136.0 343.2h2.0v2h-2.0zM146.0 343.2h2.0v2h-2.0zM150.0 343.2h4.0v2h-4.0zM156.0 343.2h2.0v2h-2.0zM224.0 343.2h2.0v2h-2.0zM242.0 343.2h2.0v2h-2.0zM248.0 343.2h2.0v2h-2.0zM62.0 341.2h2.0v2h-2.0zM74.0 341.2h2.0v2h-2.0zM128.0 341.2h2.0v2h-2.0zM218.0 341.2h2.0v2h-2.0zM134.0 339.2h4.0v2h-4.0zM134.0 337.2h2.0v2h-2.0zM226.0 337.2h2.0v2h-2.0zM130.0 335.2h4.0v2h-4.0zM286.0 335.2h4.0v2h-4.0zM292.0 335.2h4.0v2h-4.0zM298.0 335.2h4.0v2h-4.0zM288.0 333.2h2.0v2h-2.0zM298.0 331.2h2.0v2h-2.0zM294.0 327.2h2.0v2h-2.0z"/>
<path fill="#f06c72" d="M256.0 349.2h2.0v2h-2.0zM274.0 349.2h4.0v2h-4.0zM282.0 349.2h2.0v2h-2.0zM286.0 349.2h4.0v2h-4.0zM298.0 349.2h2.0v2h-2.0zM310.0 349.2h4.0v2h-4.0zM318.0 349.2h2.0v2h-2.0zM50.0 347.2h2.0v2h-2.0zM62.0 347.2h2.0v2h-2.0zM250.0 347.2h4.0v2h-4.0zM266.0 347.2h2.0v2h-2.0zM82.0 345.2h2.0v2h-2.0zM158.0 345.2h2.0v2h-2.0zM180.0 345.2h2.0v2h-2.0zM194.0 345.2h2.0v2h-2.0zM202.0 345.2h2.0v2h-2.0zM206.0 345.2h2.0v2h-2.0zM218.0 345.2h4.0v2h-4.0zM48.0 343.2h2.0v2h-2.0zM66.0 343.2h2.0v2h-2.0zM70.0 343.2h2.0v2h-2.0zM158.0 343.2h2.0v2h-2.0zM194.0 343.2h2.0v2h-2.0zM206.0 343.2h2.0v2h-2.0zM214.0 343.2h2.0v2h-2.0zM218.0 343.2h2.0v2h-2.0zM222.0 343.2h2.0v2h-2.0zM228.0 343.2h2.0v2h-2.0zM274.0 343.2h2.0v2h-2.0zM68.0 341.2h6.0v2h-6.0zM134.0 341.2h2.0v2h-2.0zM230.0 341.2h2.0v2h-2.0zM82.0 339.2h2.0v2h-2.0zM298.0 337.2h2.0v2h-2.0zM304.0 335.2h4.0v2h-4.0zM310.0 335.2h3.5v2h-3.5zM308.0 333.2h2.0v2h-2.0zM288.0 331.2h2.0v2h-2.0zM300.0 331.2h2.0v2h-2.0zM308.0 331.2h1.6v2h-1.6z"/>
<path fill="#ee5a60" d="M100.0 349.2h2.0v2h-2.0zM44.0 347.2h2.0v2h-2.0zM100.0 347.2h4.0v2h-4.0zM106.0 347.2h4.0v2h-4.0zM170.0 347.2h8.0v2h-8.0zM38.0 345.2h4.0v2h-4.0zM50.0 345.2h2.0v2h-2.0zM56.0 345.2h2.0v2h-2.0zM62.0 345.2h2.0v2h-2.0zM122.0 345.2h2.0v2h-2.0zM140.0 345.2h2.0v2h-2.0zM144.0 345.2h2.0v2h-2.0zM148.0 345.2h2.0v2h-2.0zM172.0 345.2h4.0v2h-4.0zM186.0 345.2h2.0v2h-2.0zM190.0 345.2h2.0v2h-2.0zM222.0 345.2h2.0v2h-2.0zM238.0 345.2h2.0v2h-2.0zM252.0 345.2h2.0v2h-2.0zM38.7 343.2h1.3v2h-1.3zM50.0 343.2h2.0v2h-2.0zM56.0 343.2h2.0v2h-2.0zM62.0 343.2h2.0v2h-2.0zM88.0 343.2h2.0v2h-2.0zM120.0 343.2h4.0v2h-4.0zM126.0 343.2h2.0v2h-2.0zM138.0 343.2h4.0v2h-4.0zM86.0 341.2h2.0v2h-2.0zM136.0 341.2h4.0v2h-4.0zM220.0 341.2h4.0v2h-4.0zM128.0 339.2h4.0v2h-4.0zM228.0 339.2h2.0v2h-2.0zM308.0 339.2h2.0v2h-2.0zM128.0 337.2h2.0v2h-2.0zM300.0 337.2h2.0v2h-2.0zM308.0 337.2h2.0v2h-2.0z"/>
<path fill="#ec474f" d="M278.0 351.2h2.0v2h-2.0zM284.0 351.2h2.0v2h-2.0zM290.0 351.2h2.0v2h-2.0zM308.0 351.2h2.0v2h-2.0zM314.0 351.2h2.0v2h-2.0zM320.0 351.2h2.0v2h-2.0zM180.0 349.2h2.0v2h-2.0zM198.0 349.2h2.0v2h-2.0zM278.0 349.2h2.0v2h-2.0zM284.0 349.2h2.0v2h-2.0zM290.0 349.2h2.0v2h-2.0zM308.0 349.2h2.0v2h-2.0zM314.0 349.2h2.0v2h-2.0zM320.0 349.2h2.0v2h-2.0zM34.9 347.2h3.1v2h-3.1zM58.0 347.2h4.0v2h-4.0zM110.0 347.2h2.0v2h-2.0zM154.0 347.2h4.0v2h-4.0zM190.0 347.2h4.0v2h-4.0zM202.0 347.2h4.0v2h-4.0zM236.0 347.2h2.0v2h-2.0zM42.0 345.2h2.0v2h-2.0zM58.0 345.2h2.0v2h-2.0zM72.0 345.2h2.0v2h-2.0zM78.0 345.2h4.0v2h-4.0zM168.0 345.2h2.0v2h-2.0zM204.0 345.2h2.0v2h-2.0zM232.0 345.2h4.0v2h-4.0zM240.0 345.2h2.0v2h-2.0zM272.0 345.2h2.0v2h-2.0zM76.0 343.2h6.0v2h-6.0zM84.0 343.2h2.0v2h-2.0zM132.0 343.2h2.0v2h-2.0zM272.0 343.2h2.0v2h-2.0zM82.0 341.2h4.0v2h-4.0zM216.0 339.2h2.0v2h-2.0zM288.0 339.2h2.0v2h-2.0zM296.0 339.2h2.0v2h-2.0zM296.0 337.2h2.0v2h-2.0zM304.0 337.2h2.0v2h-2.0zM292.0 333.2h2.0v2h-2.0z"/>
<path fill="#ea353d" d="M40.0 349.2h4.0v2h-4.0zM46.0 349.2h2.0v2h-2.0zM58.0 349.2h2.0v2h-2.0zM252.0 349.2h2.0v2h-2.0zM264.0 349.2h2.0v2h-2.0zM56.0 347.2h2.0v2h-2.0zM146.0 347.2h2.0v2h-2.0zM184.0 347.2h4.0v2h-4.0zM220.0 347.2h4.0v2h-4.0zM48.0 345.2h2.0v2h-2.0zM64.0 345.2h2.0v2h-2.0zM118.0 345.2h2.0v2h-2.0zM150.0 345.2h2.0v2h-2.0zM154.0 345.2h2.0v2h-2.0zM160.0 345.2h2.0v2h-2.0zM124.0 343.2h2.0v2h-2.0zM130.0 343.2h2.0v2h-2.0zM220.0 343.2h2.0v2h-2.0zM224.0 341.2h2.0v2h-2.0zM132.0 339.2h2.0v2h-2.0zM316.0 339.2h1.4v2h-1.4zM306.0 337.2h2.0v2h-2.0z"/>
<path fill="#e8222c" d="M182.0 351.2h2.0v2h-2.0zM102.0 349.2h2.0v2h-2.0zM166.0 349.2h2.0v2h-2.0zM182.0 349.2h2.0v2h-2.0zM246.0 349.2h2.0v2h-2.0zM86.0 347.2h2.0v2h-2.0zM92.0 347.2h2.0v2h-2.0zM178.0 347.2h4.0v2h-4.0zM188.0 347.2h2.0v2h-2.0zM206.0 347.2h2.0v2h-2.0zM238.0 347.2h4.0v2h-4.0zM244.0 347.2h4.0v2h-4.0zM254.0 347.2h2.0v2h-2.0zM36.8 345.2h1.2v2h-1.2zM46.0 345.2h2.0v2h-2.0zM70.0 345.2h2.0v2h-2.0zM74.0 345.2h2.0v2h-2.0zM84.0 345.2h2.0v2h-2.0zM134.0 345.2h2.0v2h-2.0zM142.0 345.2h2.0v2h-2.0zM162.0 345.2h2.0v2h-2.0zM74.0 343.2h2.0v2h-2.0zM134.0 343.2h2.0v2h-2.0zM216.0 343.2h2.0v2h-2.0zM226.0 343.2h2.0v2h-2.0zM226.0 341.2h4.0v2h-4.0zM282.0 339.2h2.0v2h-2.0zM310.0 339.2h2.0v2h-2.0zM292.0 337.2h2.0v2h-2.0z"/>
<path fill="#e6101a" d="M31.0 351.2h151.0v2h-151.0zM184.0 351.2h82.0v2h-82.0zM268.0 351.2h10.0v2h-10.0zM280.0 351.2h4.0v2h-4.0zM286.0 351.2h4.0v2h-4.0zM292.0 351.2h16.0v2h-16.0zM310.0 351.2h4.0v2h-4.0zM316.0 351.2h4.0v2h-4.0zM322.0 351.2h7.0v2h-7.0zM32.9 349.2h7.1v2h-7.1zM44.0 349.2h2.0v2h-2.0zM48.0 349.2h10.0v2h-10.0zM60.0 349.2h40.0v2h-40.0zM104.0 349.2h62.0v2h-62.0zM168.0 349.2h4.0v2h-4.0zM174.0 349.2h6.0v2h-6.0zM184.0 349.2h14.0v2h-14.0zM200.0 349.2h46.0v2h-46.0zM248.0 349.2h4.0v2h-4.0zM254.0 349.2h2.0v2h-2.0zM258.0 349.2h6.0v2h-6.0zM268.0 349.2h6.0v2h-6.0zM280.0 349.2h2.0v2h-2.0zM292.0 349.2h6.0v2h-6.0zM300.0 349.2h8.0v2h-8.0zM316.0 349.2h2.0v2h-2.0zM322.0 349.2h5.1v2h-5.1zM38.0 347.2h2.0v2h-2.0zM46.0 347.2h4.0v2h-4.0zM52.0 347.2h4.0v2h-4.0zM64.0 347.2h22.0v2h-22.0zM88.0 347.2h4.0v2h-4.0zM112.0 347.2h34.0v2h-34.0zM148.0 347.2h6.0v2h-6.0zM158.0 347.2h12.0v2h-12.0zM182.0 347.2h2.0v2h-2.0zM194.0 347.2h8.0v2h-8.0zM208.0 347.2h12.0v2h-12.0zM224.0 347.2h12.0v2h-12.0zM268.0 347.2h16.0v2h-16.0zM290.0 347.2h2.0v2h-2.0zM296.0 347.2h14.0v2h-14.0zM316.0 347.2h6.0v2h-6.0zM54.0 345.2h2.0v2h-2.0zM60.0 345.2h2.0v2h-2.0zM66.0 345.2h2.0v2h-2.0zM76.0 345.2h2.0v2h-2.0zM86.0 345.2h6.0v2h-6.0zM120.0 345.2h2.0v2h-2.0zM124.0 345.2h10.0v2h-10.0zM136.0 345.2h4.0v2h-4.0zM196.0 345.2h2.0v2h-2.0zM210.0 345.2h8.0v2h-8.0zM226.0 345.2h6.0v2h-6.0zM274.0 345.2h2.0v2h-2.0zM282.0 345.2h2.0v2h-2.0zM286.0 345.2h10.0v2h-10.0zM298.0 345.2h8.0v2h-8.0zM308.0 345.2h8.0v2h-8.0zM318.0 345.2h5.2v2h-5.2zM86.0 343.2h2.0v2h-2.0zM128.0 343.2h2.0v2h-2.0zM212.0 343.2h2.0v2h-2.0zM230.0 343.2h2.0v2h-2.0zM276.0 343.2h2.0v2h-2.0zM282.0 343.2h2.0v2h-2.0zM286.0 343.2h10.0v2h-10.0zM298.0 343.2h6.0v2h-6.0zM306.0 343.2h6.0v2h-6.0zM314.0 343.2h2.0v2h-2.0zM318.0 343.2h3.3v2h-3.3zM122.0 341.2h6.0v2h-6.0zM214.0 341.2h4.0v2h-4.0zM278.0 341.2h6.0v2h-6.0zM292.0 341.2h4.0v2h-4.0zM302.0 341.2h14.0v2h-14.0zM280.0 339.2h2.0v2h-2.0zM292.0 339.2h4.0v2h-4.0zM306.0 339.2h2.0v2h-2.0zM312.0 339.2h2.0v2h-2.0z"/>
</g>
<path fill="#111" d="M101.2 352.7m-1.3 0a1.3 1.3 0 1 0 2.6 0a1.3 1.3 0 1 0 -2.6 0M97.7 349.2m-1.3 0a1.3 1.3 0 1 0 2.6 0a1.3 1.3 0 1 0 -2.6 0M94.2 345.6m-1.3 0a1.3 1.3 0 1 0 2.6 0a1.3 1.3 0 1 0 -2.6 0M90.7 342.1m-1.3 0a1.3 1.3 0 1 0 2.6 0a1.3 1.3 0 1 0 -2.6 0M87.3 338.5m-1.3 0a1.3 1.3 0 1 0 2.6 0a1.3 1.3 0 1 0 -2.6 0M83.8 335.0m-1.3 0a1.3 1.3 0 1 0 2.6 0a1.3 1.3 0 1 0 -2.6 0M80.3 331.4m-1.3 0a1.3 1.3 0 1 0 2.6 0a1.3 1.3 0 1 0 -2.6 0M76.8 327.9m-1.3 0a1.3 1.3 0 1 0 2.6 0a1.3 1.3 0 1 0 -2.6 0M73.3 324.4m-1.3 0a1.3 1.3 0 1 0 2.6 0a1.3 1.3 0 1 0 -2.6 0M69.8 320.8m-1.3 0a1.3 1.3 0 1 0 2.6 0a1.3 1.3 0 1 0 -2.6 0M66.3 317.3m-1.3 0a1.3 1.3 0 1 0 2.6 0a1.3 1.3 0 1 0 -2.6 0M101.2 352.7m-1.3 0a1.3 1.3 0 1 0 2.6 0a1.3 1.3 0 1 0 -2.6 0M104.7 349.1m-1.3 0a1.3 1.3 0 1 0 2.6 0a1.3 1.3 0 1 0 -2.6 0M108.1 345.6m-1.3 0a1.3 1.3 0 1 0 2.6 0a1.3 1.3 0 1 0 -2.6 0M111.6 342.0m-1.3 0a1.3 1.3 0 1 0 2.6 0a1.3 1.3 0 1 0 -2.6 0M115.1 338.5m-1.3 0a1.3 1.3 0 1 0 2.6 0a1.3 1.3 0 1 0 -2.6 0M118.5 334.9m-1.3 0a1.3 1.3 0 1 0 2.6 0a1.3 1.3 0 1 0 -2.6 0M122.0 331.3m-1.3 0a1.3 1.3 0 1 0 2.6 0a1.3 1.3 0 1 0 -2.6 0M125.5 327.8m-1.3 0a1.3 1.3 0 1 0 2.6 0a1.3 1.3 0 1 0 -2.6 0M129.0 324.2m-1.3 0a1.3 1.3 0 1 0 2.6 0a1.3 1.3 0 1 0 -2.6 0M132.4 320.7m-1.3 0a1.3 1.3 0 1 0 2.6 0a1.3 1.3 0 1 0 -2.6 0M135.9 317.1m-1.3 0a1.3 1.3 0 1 0 2.6 0a1.3 1.3 0 1 0 -2.6 0M139.4 313.6m-1.3 0a1.3 1.3 0 1 0 2.6 0a1.3 1.3 0 1 0 -2.6 0M142.8 310.0m-1.3 0a1.3 1.3 0 1 0 2.6 0a1.3 1.3 0 1 0 -2.6 0M146.3 306.4m-1.3 0a1.3 1.3 0 1 0 2.6 0a1.3 1.3 0 1 0 -2.6 0M149.8 302.9m-1.3 0a1.3 1.3 0 1 0 2.6 0a1.3 1.3 0 1 0 -2.6 0M153.2 299.3m-1.3 0a1.3 1.3 0 1 0 2.6 0a1.3 1.3 0 1 0 -2.6 0M156.7 295.8m-1.3 0a1.3 1.3 0 1 0 2.6 0a1.3 1.3 0 1 0 -2.6 0M160.2 292.2m-1.3 0a1.3 1.3 0 1 0 2.6 0a1.3 1.3 0 1 0 -2.6 0M163.7 288.6m-1.3 0a1.3 1.3 0 1 0 2.6 0a1.3 1.3 0 1 0 -2.6 0M167.1 285.1m-1.3 0a1.3 1.3 0 1 0 2.6 0a1.3 1.3 0 1 0 -2.6 0M170.6 281.5m-1.3 0a1.3 1.3 0 1 0 2.6 0a1.3 1.3 0 1 0 -2.6 0M174.1 278.0m-1.3 0a1.3 1.3 0 1 0 2.6 0a1.3 1.3 0 1 0 -2.6 0M177.5 274.4m-1.3 0a1.3 1.3 0 1 0 2.6 0a1.3 1.3 0 1 0 -2.6 0M181.0 270.9m-1.3 0a1.3 1.3 0 1 0 2.6 0a1.3 1.3 0 1 0 -2.6 0M184.5 267.3m-1.3 0a1.3 1.3 0 1 0 2.6 0a1.3 1.3 0 1 0 -2.6 0M187.9 263.7m-1.3 0a1.3 1.3 0 1 0 2.6 0a1.3 1.3 0 1 0 -2.6 0M191.4 260.2m-1.3 0a1.3 1.3 0 1 0 2.6 0a1.3 1.3 0 1 0 -2.6 0M194.9 256.6m-1.3 0a1.3 1.3 0 1 0 2.6 0a1.3 1.3 0 1 0 -2.6 0M198.3 253.1m-1.3 0a1.3 1.3 0 1 0 2.6 0a1.3 1.3 0 1 0 -2.6 0M201.8 249.5m-1.3 0a1.3 1.3 0 1 0 2.6 0a1.3 1.3 0 1 0 -2.6 0M205.3 245.9m-1.3 0a1.3 1.3 0 1 0 2.6 0a1.3 1.3 0 1 0 -2.6 0M208.8 242.4m-1.3 0a1.3 1.3 0 1 0 2.6 0a1.3 1.3 0 1 0 -2.6 0M212.2 238.8m-1.3 0a1.3 1.3 0 1 0 2.6 0a1.3 1.3 0 1 0 -2.6 0M171.5 352.7m-1.3 0a1.3 1.3 0 1 0 2.6 0a1.3 1.3 0 1 0 -2.6 0M168.0 349.1m-1.3 0a1.3 1.3 0 1 0 2.6 0a1.3 1.3 0 1 0 -2.6 0M164.6 345.6m-1.3 0a1.3 1.3 0 1 0 2.6 0a1.3 1.3 0 1 0 -2.6 0M161.1 342.0m-1.3 0a1.3 1.3 0 1 0 2.6 0a1.3 1.3 0 1 0 -2.6 0M157.6 338.5m-1.3 0a1.3 1.3 0 1 0 2.6 0a1.3 1.3 0 1 0 -2.6 0M154.1 334.9m-1.3 0a1.3 1.3 0 1 0 2.6 0a1.3 1.3 0 1 0 -2.6 0M150.7 331.4m-1.3 0a1.3 1.3 0 1 0 2.6 0a1.3 1.3 0 1 0 -2.6 0M147.2 327.8m-1.3 0a1.3 1.3 0 1 0 2.6 0a1.3 1.3 0 1 0 -2.6 0M143.7 324.3m-1.3 0a1.3 1.3 0 1 0 2.6 0a1.3 1.3 0 1 0 -2.6 0M140.2 320.7m-1.3 0a1.3 1.3 0 1 0 2.6 0a1.3 1.3 0 1 0 -2.6 0M136.8 317.2m-1.3 0a1.3 1.3 0 1 0 2.6 0a1.3 1.3 0 1 0 -2.6 0M133.3 313.6m-1.3 0a1.3 1.3 0 1 0 2.6 0a1.3 1.3 0 1 0 -2.6 0M129.8 310.1m-1.3 0a1.3 1.3 0 1 0 2.6 0a1.3 1.3 0 1 0 -2.6 0M126.3 306.5m-1.3 0a1.3 1.3 0 1 0 2.6 0a1.3 1.3 0 1 0 -2.6 0M122.9 302.9m-1.3 0a1.3 1.3 0 1 0 2.6 0a1.3 1.3 0 1 0 -2.6 0M119.4 299.4m-1.3 0a1.3 1.3 0 1 0 2.6 0a1.3 1.3 0 1 0 -2.6 0M115.9 295.8m-1.3 0a1.3 1.3 0 1 0 2.6 0a1.3 1.3 0 1 0 -2.6 0M112.4 292.3m-1.3 0a1.3 1.3 0 1 0 2.6 0a1.3 1.3 0 1 0 -2.6 0M109.0 288.7m-1.3 0a1.3 1.3 0 1 0 2.6 0a1.3 1.3 0 1 0 -2.6 0M105.5 285.2m-1.3 0a1.3 1.3 0 1 0 2.6 0a1.3 1.3 0 1 0 -2.6 0M102.0 281.6m-1.3 0a1.3 1.3 0 1 0 2.6 0a1.3 1.3 0 1 0 -2.6 0M171.5 352.7m-1.3 0a1.3 1.3 0 1 0 2.6 0a1.3 1.3 0 1 0 -2.6 0M175.0 349.1m-1.3 0a1.3 1.3 0 1 0 2.6 0a1.3 1.3 0 1 0 -2.6 0M178.4 345.6m-1.3 0a1.3 1.3 0 1 0 2.6 0a1.3 1.3 0 1 0 -2.6 0M181.9 342.0m-1.3 0a1.3 1.3 0 1 0 2.6 0a1.3 1.3 0 1 0 -2.6 0M185.4 338.5m-1.3 0a1.3 1.3 0 1 0 2.6 0a1.3 1.3 0 1 0 -2.6 0M188.9 334.9m-1.3 0a1.3 1.3 0 1 0 2.6 0a1.3 1.3 0 1 0 -2.6 0M192.3 331.4m-1.3 0a1.3 1.3 0 1 0 2.6 0a1.3 1.3 0 1 0 -2.6 0M195.8 327.8m-1.3 0a1.3 1.3 0 1 0 2.6 0a1.3 1.3 0 1 0 -2.6 0M199.3 324.3m-1.3 0a1.3 1.3 0 1 0 2.6 0a1.3 1.3 0 1 0 -2.6 0M202.8 320.7m-1.3 0a1.3 1.3 0 1 0 2.6 0a1.3 1.3 0 1 0 -2.6 0M206.2 317.1m-1.3 0a1.3 1.3 0 1 0 2.6 0a1.3 1.3 0 1 0 -2.6 0M209.7 313.6m-1.3 0a1.3 1.3 0 1 0 2.6 0a1.3 1.3 0 1 0 -2.6 0M213.2 310.0m-1.3 0a1.3 1.3 0 1 0 2.6 0a1.3 1.3 0 1 0 -2.6 0M216.6 306.5m-1.3 0a1.3 1.3 0 1 0 2.6 0a1.3 1.3 0 1 0 -2.6 0M220.1 302.9m-1.3 0a1.3 1.3 0 1 0 2.6 0a1.3 1.3 0 1 0 -2.6 0M223.6 299.4m-1.3 0a1.3 1.3 0 1 0 2.6 0a1.3 1.3 0 1 0 -2.6 0M227.1 295.8m-1.3 0a1.3 1.3 0 1 0 2.6 0a1.3 1.3 0 1 0 -2.6 0M230.5 292.3m-1.3 0a1.3 1.3 0 1 0 2.6 0a1.3 1.3 0 1 0 -2.6 0M234.0 288.7m-1.3 0a1.3 1.3 0 1 0 2.6 0a1.3 1.3 0 1 0 -2.6 0M237.5 285.2m-1.3 0a1.3 1.3 0 1 0 2.6 0a1.3 1.3 0 1 0 -2.6 0M241.0 281.6m-1.3 0a1.3 1.3 0 1 0 2.6 0a1.3 1.3 0 1 0 -2.6 0M244.4 278.0m-1.3 0a1.3 1.3 0 1 0 2.6 0a1.3 1.3 0 1 0 -2.6 0M247.9 274.5m-1.3 0a1.3 1.3 0 1 0 2.6 0a1.3 1.3 0 1 0 -2.6 0M265.7 352.7m-1.3 0a1.3 1.3 0 1 0 2.6 0a1.3 1.3 0 1 0 -2.6 0M262.2 349.1m-1.3 0a1.3 1.3 0 1 0 2.6 0a1.3 1.3 0 1 0 -2.6 0M258.8 345.6m-1.3 0a1.3 1.3 0 1 0 2.6 0a1.3 1.3 0 1 0 -2.6 0M255.3 342.0m-1.3 0a1.3 1.3 0 1 0 2.6 0a1.3 1.3 0 1 0 -2.6 0M251.8 338.5m-1.3 0a1.3 1.3 0 1 0 2.6 0a1.3 1.3 0 1 0 -2.6 0M248.4 334.9m-1.3 0a1.3 1.3 0 1 0 2.6 0a1.3 1.3 0 1 0 -2.6 0M244.9 331.3m-1.3 0a1.3 1.3 0 1 0 2.6 0a1.3 1.3 0 1 0 -2.6 0M241.4 327.8m-1.3 0a1.3 1.3 0 1 0 2.6 0a1.3 1.3 0 1 0 -2.6 0M237.9 324.2m-1.3 0a1.3 1.3 0 1 0 2.6 0a1.3 1.3 0 1 0 -2.6 0M234.5 320.7m-1.3 0a1.3 1.3 0 1 0 2.6 0a1.3 1.3 0 1 0 -2.6 0M231.0 317.1m-1.3 0a1.3 1.3 0 1 0 2.6 0a1.3 1.3 0 1 0 -2.6 0M227.5 313.6m-1.3 0a1.3 1.3 0 1 0 2.6 0a1.3 1.3 0 1 0 -2.6 0M224.1 310.0m-1.3 0a1.3 1.3 0 1 0 2.6 0a1.3 1.3 0 1 0 -2.6 0M220.6 306.4m-1.3 0a1.3 1.3 0 1 0 2.6 0a1.3 1.3 0 1 0 -2.6 0M217.1 302.9m-1.3 0a1.3 1.3 0 1 0 2.6 0a1.3 1.3 0 1 0 -2.6 0M213.7 299.3m-1.3 0a1.3 1.3 0 1 0 2.6 0a1.3 1.3 0 1 0 -2.6 0M210.2 295.8m-1.3 0a1.3 1.3 0 1 0 2.6 0a1.3 1.3 0 1 0 -2.6 0M206.7 292.2m-1.3 0a1.3 1.3 0 1 0 2.6 0a1.3 1.3 0 1 0 -2.6 0M203.3 288.6m-1.3 0a1.3 1.3 0 1 0 2.6 0a1.3 1.3 0 1 0 -2.6 0M199.8 285.1m-1.3 0a1.3 1.3 0 1 0 2.6 0a1.3 1.3 0 1 0 -2.6 0M196.3 281.5m-1.3 0a1.3 1.3 0 1 0 2.6 0a1.3 1.3 0 1 0 -2.6 0M192.8 278.0m-1.3 0a1.3 1.3 0 1 0 2.6 0a1.3 1.3 0 1 0 -2.6 0M189.4 274.4m-1.3 0a1.3 1.3 0 1 0 2.6 0a1.3 1.3 0 1 0 -2.6 0M185.9 270.8m-1.3 0a1.3 1.3 0 1 0 2.6 0a1.3 1.3 0 1 0 -2.6 0M182.4 267.3m-1.3 0a1.3 1.3 0 1 0 2.6 0a1.3 1.3 0 1 0 -2.6 0M179.0 263.7m-1.3 0a1.3 1.3 0 1 0 2.6 0a1.3 1.3 0 1 0 -2.6 0M175.5 260.2m-1.3 0a1.3 1.3 0 1 0 2.6 0a1.3 1.3 0 1 0 -2.6 0M172.0 256.6m-1.3 0a1.3 1.3 0 1 0 2.6 0a1.3 1.3 0 1 0 -2.6 0M168.6 253.1m-1.3 0a1.3 1.3 0 1 0 2.6 0a1.3 1.3 0 1 0 -2.6 0M165.1 249.5m-1.3 0a1.3 1.3 0 1 0 2.6 0a1.3 1.3 0 1 0 -2.6 0M161.6 245.9m-1.3 0a1.3 1.3 0 1 0 2.6 0a1.3 1.3 0 1 0 -2.6 0M158.1 242.4m-1.3 0a1.3 1.3 0 1 0 2.6 0a1.3 1.3 0 1 0 -2.6 0M154.7 238.8m-1.3 0a1.3 1.3 0 1 0 2.6 0a1.3 1.3 0 1 0 -2.6 0M151.2 235.3m-1.3 0a1.3 1.3 0 1 0 2.6 0a1.3 1.3 0 1 0 -2.6 0M265.7 352.7m-1.3 0a1.3 1.3 0 1 0 2.6 0a1.3 1.3 0 1 0 -2.6 0M269.2 349.2m-1.3 0a1.3 1.3 0 1 0 2.6 0a1.3 1.3 0 1 0 -2.6 0M272.7 345.6m-1.3 0a1.3 1.3 0 1 0 2.6 0a1.3 1.3 0 1 0 -2.6 0M276.2 342.1m-1.3 0a1.3 1.3 0 1 0 2.6 0a1.3 1.3 0 1 0 -2.6 0M279.7 338.5m-1.3 0a1.3 1.3 0 1 0 2.6 0a1.3 1.3 0 1 0 -2.6 0M283.1 335.0m-1.3 0a1.3 1.3 0 1 0 2.6 0a1.3 1.3 0 1 0 -2.6 0M286.6 331.5m-1.3 0a1.3 1.3 0 1 0 2.6 0a1.3 1.3 0 1 0 -2.6 0M290.1 327.9m-1.3 0a1.3 1.3 0 1 0 2.6 0a1.3 1.3 0 1 0 -2.6 0M293.6 324.4m-1.3 0a1.3 1.3 0 1 0 2.6 0a1.3 1.3 0 1 0 -2.6 0M297.1 320.8m-1.3 0a1.3 1.3 0 1 0 2.6 0a1.3 1.3 0 1 0 -2.6 0"/>
<circle cx="98.8" cy="326.3" r="2.9" fill="none" stroke="#5868b0" stroke-width="0.8"/>
<circle cx="93.3" cy="336.2" r="2.9" fill="none" stroke="#5868b0" stroke-width="0.8"/>
<circle cx="91.5" cy="336.8" r="2.9" fill="none" stroke="#5868b0" stroke-width="0.8"/>
<circle cx="112" cy="319.2" r="2.4" fill="#b8303e" opacity="0.8"/>
<circle cx="112" cy="319.2" r="2.9" fill="none" stroke="#5868b0" stroke-width="0.8"/>
<circle cx="119.5" cy="327" r="2.4" fill="#b8303e" opacity="0.8"/>
<circle cx="119.5" cy="327" r="2.9" fill="none" stroke="#5868b0" stroke-width="0.8"/>
<circle cx="113.3" cy="337" r="2.9" fill="none" stroke="#5868b0" stroke-width="0.8"/>
<circle cx="103.5" cy="346.3" r="2.4" fill="#b8303e" opacity="0.8"/>
<circle cx="103.5" cy="346.3" r="2.9" fill="none" stroke="#5868b0" stroke-width="0.8"/>
<circle cx="169.2" cy="345.5" r="2.9" fill="none" stroke="#5868b0" stroke-width="0.8"/>
<circle cx="176" cy="344.5" r="2.4" fill="#b8303e" opacity="0.8"/>
<circle cx="176" cy="344.5" r="2.9" fill="none" stroke="#5868b0" stroke-width="0.8"/>
<circle cx="196" cy="321.4" r="2.9" fill="none" stroke="#5868b0" stroke-width="0.8"/>
<circle cx="184.6" cy="333" r="2.9" fill="none" stroke="#5868b0" stroke-width="0.8"/>
<circle cx="269.8" cy="346.3" r="2.4" fill="#b8303e" opacity="0.8"/>
<circle cx="269.8" cy="346.3" r="2.9" fill="none" stroke="#5868b0" stroke-width="0.8"/>
<circle cx="277" cy="338.6" r="2.9" fill="none" stroke="#5868b0" stroke-width="0.8"/>
<rect x="48.4" y="355.5" width="2.3" height="4.8" rx="0.8" fill="#111"/>
<text x="55.6" y="361.2" font-size="7.5" fill="#222" stroke="#222" stroke-width="0.18">PPP1R1A</text>
<text x="109.5" y="362" font-size="7.6" fill="#222" stroke="#222" stroke-width="0.18">CPM</text>
<line x1="128.5" y1="357.8" x2="144" y2="357.8" stroke="#222" stroke-width="0.7"/>
<path d="M131 356.6 L132.3 357.8 L131 359" fill="none" stroke="#222" stroke-width="0.5"/>
<path d="M134.5 356.6 L135.8 357.8 L134.5 359" fill="none" stroke="#222" stroke-width="0.5"/>
<path d="M138 356.6 L139.3 357.8 L138 359" fill="none" stroke="#222" stroke-width="0.5"/>
<path d="M141.5 356.6 L142.8 357.8 L141.5 359" fill="none" stroke="#222" stroke-width="0.5"/>
<rect x="128.3" y="356.3" width="1" height="3" fill="#222"/>
<rect x="143.8" y="355.6" width="6.2" height="4.4" fill="#111"/>
<rect x="145.6" y="355.6" width="0.6" height="4.4" fill="#fff" opacity="0.5"/>
<rect x="148" y="364.4" width="2.6" height="3.2" fill="#111"/><rect x="151" y="364.1" width="3.6" height="3.6" fill="#111"/>
<text x="157.7" y="367.6" font-size="7.6" fill="#222" stroke="#222" stroke-width="0.18">MDM2</text>
<path d="M25.2 370.8 H27 V388.2 H25.2" fill="none" stroke="#222" stroke-width="0.8"/>
<text x="24.2" y="374.1" font-size="5.4" fill="#333" stroke="#333" stroke-width="0.18" text-anchor="end">50</text>
<text x="24.2" y="388.5" font-size="5.4" fill="#333" stroke="#333" stroke-width="0.18" text-anchor="end">0</text>
<text x="22.8" y="381.7" font-size="5.6" fill="#333" stroke="#333" stroke-width="0.18" text-anchor="end">H3K27Ac</text>
<path d="M25.2 390.9 H27 V409.2 H25.2" fill="none" stroke="#222" stroke-width="0.8"/>
<text x="24.2" y="394.2" font-size="5.4" fill="#333" stroke="#333" stroke-width="0.18" text-anchor="end">50</text>
<text x="24.2" y="409.5" font-size="5.4" fill="#333" stroke="#333" stroke-width="0.18" text-anchor="end">0</text>
<text x="22.8" y="402.24999999999994" font-size="5.6" fill="#333" stroke="#333" stroke-width="0.18" text-anchor="end">ATAC</text>
<path d="M25.2 411.2 H27 V429.2 H25.2" fill="none" stroke="#222" stroke-width="0.8"/>
<text x="24.2" y="414.5" font-size="5.4" fill="#333" stroke="#333" stroke-width="0.18" text-anchor="end">50</text>
<text x="24.2" y="429.5" font-size="5.4" fill="#333" stroke="#333" stroke-width="0.18" text-anchor="end">0</text>
<text x="22.8" y="422.4" font-size="5.6" fill="#333" stroke="#333" stroke-width="0.18" text-anchor="end">CNV</text>
<path fill="#1f9a4e" d="M29.4 388.8H29.4V388.8H29.9V388.4H30.4V388.5H30.9V388.8H31.4V388.7H31.9V388.6H32.4V388.4H32.9V387.6H33.4V388.6H33.9V388.8H34.4V388.4H34.9V388.8H35.4V388.5H35.9V388.8H36.4V388.7H36.9V388.6H37.4V388.8H37.9V388.3H38.4V388.4H38.9V388.8H39.4V388.8H39.9V388.7H40.4V388.3H40.9V388.8H41.4V388.8H41.9V388.8H42.4V388.8H42.9V388.8H43.4V388.7H43.9V388.7H44.4V388.8H44.9V388.8H45.4V388.7H45.9V388.5H46.4V387.6H46.9V388.5H47.4V388.4H47.9V388.7H48.4V388.6H48.9V388.8H49.4V388.2H49.9V388.4H50.4V388.8H50.9V388.8H51.4V388.6H51.9V388.6H52.4V388.3H52.9V388.8H53.4V388.5H53.9V388.6H54.4V388.8H54.9V388.7H55.4V388.4H55.9V388.4H56.4V388.7H56.9V388.7H57.4V388.8H57.9V388.8H58.4V388.5H58.9V388.8H59.4V388.8H59.9V388.7H60.4V388.6H60.9V388.6H61.4V388.8H61.9V388.7H62.4V388.7H62.9V388.5H63.4V388.7H63.9V388.8H64.4V388.7H64.9V388.8H65.4V388.8H65.9V388.6H66.4V388.2H66.9V388.7H67.4V388.8H67.9V388.8H68.4V388.7H68.9V388.2H69.4V388.5H69.9V388.7H70.4V388.4H70.9V388.8H71.4V388.7H71.9V388.3H72.4V388.7H72.9V388.7H73.4V388.8H73.9V388.7H74.4V388.3H74.9V388.8H75.4V388.5H75.9V388.5H76.4V388.4H76.9V388.6H77.4V388.5H77.9V388.7H78.4V388.7H78.9V388.8H79.4V388.8H79.9V388.4H80.4V388.7H80.9V388.8H81.4V388.7H81.9V388.7H82.4V388.8H82.9V388.8H83.4V388.7H83.9V388.7H84.4V388.7H84.9V388.7H85.4V388.8H85.9V388.8H86.4V388.8H86.9V388.7H87.4V388.4H87.9V388.5H88.4V388.5H88.9V388.5H89.4V388.8H89.9V388.4H90.4V388.6H90.9V388.8H91.4V388.8H91.9V388.8H92.4V388.5H92.9V388.8H93.4V388.8H93.9V388.7H94.4V388.8H94.9V388.8H95.4V388.8H95.9V388.7H96.4V388.8H96.9V388.5H97.4V387.9H97.9V384.3H98.4V387.6H98.9V388.3H99.4V388.8H99.9V388.8H100.4V388.8H100.9V388.8H101.4V388.8H101.9V388.4H102.4V388.7H102.9V388.8H103.4V388.7H103.9V388.5H104.4V388.8H104.9V388.8H105.4V388.8H105.9V388.6H106.4V388.8H106.9V388.6H107.4V388.6H107.9V388.7H108.4V388.8H108.9V388.2H109.4V388.5H109.9V388.7H110.4V388.8H110.9V388.6H111.4V388.8H111.9V388.7H112.4V385.9H112.9V369.8H113.4V369.8H113.9V385.4H114.4V376.8H114.9V385.2H115.4V387.0H115.9V386.1H116.4V378.8H116.9V386.7H117.4V388.2H117.9V388.8H118.4V388.8H118.9V388.8H119.4V387.8H119.9V386.2H120.4V377.8H120.9V386.2H121.4V387.8H121.9V388.1H122.4V387.2H122.9V382.8H123.4V387.5H123.9V388.4H124.4V388.8H124.9V388.8H125.4V388.8H125.9V388.6H126.4V388.8H126.9V388.8H127.4V388.8H127.9V388.6H128.4V388.8H128.9V388.7H129.4V388.8H129.9V388.4H130.4V388.4H130.9V388.8H131.4V388.8H131.9V388.8H132.4V388.2H132.9V388.5H133.4V388.8H133.9V388.8H134.4V388.6H134.9V387.0H135.4V384.8H135.9V373.8H136.4V385.6H136.9V386.9H137.4V379.8H137.9V386.4H138.4V385.4H138.9V374.8H139.4V385.4H139.9V387.5H140.4V388.0H140.9V386.9H141.4V381.8H141.9V387.3H142.4V388.4H142.9V388.8H143.4V388.8H143.9V388.8H144.4V388.4H144.9V388.7H145.4V388.3H145.9V388.4H146.4V388.8H146.9V388.7H147.4V388.8H147.9V388.8H148.4V388.8H148.9V388.4H149.4V388.5H149.9V388.5H150.4V388.8H150.9V388.7H151.4V388.3H151.9V386.9H152.4V379.8H152.9V386.4H153.4V383.7H153.9V369.8H154.4V384.8H154.9V373.8H155.4V373.8H155.9V383.5H156.4V369.3H156.9V384.7H157.4V376.8H157.9V385.6H158.4V387.4H158.9V388.5H159.4V387.8H159.9V383.8H160.4V387.5H160.9V388.2H161.4V388.2H161.9V388.8H162.4V388.8H162.9V388.8H163.4V388.8H163.9V388.2H164.4V386.8H164.9V379.3H165.4V386.2H165.9V387.7H166.4V388.3H166.9V388.8H167.4V388.8H167.9V388.7H168.4V388.8H168.9V388.6H169.4V388.8H169.9V388.8H170.4V388.2H170.9V388.8H171.4V388.7H171.9V388.7H172.4V388.8H172.9V388.8H173.4V388.3H173.9V388.3H174.4V387.3H174.9V381.8H175.4V384.8H175.9V387.6H176.4V388.2H176.9V388.7H177.4V388.6H177.9V388.6H178.4V388.8H178.9V388.7H179.4V388.8H179.9V388.8H180.4V388.8H180.9V388.8H181.4V388.2H181.9V388.7H182.4V388.6H182.9V388.6H183.4V388.3H183.9V388.8H184.4V388.8H184.9V388.7H185.4V388.4H185.9V386.8H186.4V388.3H186.9V388.6H187.4V388.8H187.9V388.7H188.4V388.7H188.9V388.7H189.4V388.8H189.9V388.8H190.4V388.8H190.9V388.8H191.4V388.7H191.9V388.8H192.4V388.8H192.9V388.6H193.4V388.8H193.9V388.5H194.4V388.7H194.9V388.4H195.4V388.8H195.9V388.7H196.4V388.5H196.9V388.0H197.4V386.6H197.9V379.8H198.4V386.6H198.9V388.0H199.4V388.5H199.9V388.8H200.4V388.8H200.9V388.7H201.4V388.3H201.9V388.8H202.4V388.4H202.9V388.8H203.4V387.7H203.9V384.8H204.4V369.8H204.9V383.7H205.4V386.5H205.9V388.4H206.4V388.4H206.9V388.6H207.4V388.6H207.9V388.7H208.4V388.4H208.9V386.8H209.4V388.3H209.9V388.6H210.4V388.8H210.9V388.8H211.4V388.3H211.9V388.5H212.4V388.7H212.9V388.7H213.4V388.4H213.9V388.7H214.4V388.8H214.9V388.8H215.4V388.8H215.9V388.8H216.4V388.6H216.9V388.8H217.4V388.7H217.9V388.8H218.4V388.8H218.9V388.8H219.4V388.8H219.9V388.8H220.4V388.5H220.9V386.5H221.4V383.7H221.9V369.8H222.4V383.7H222.9V369.8H223.4V376.8H223.9V385.2H224.4V387.0H224.9V388.7H225.4V388.6H225.9V388.6H226.4V388.5H226.9V388.0H227.4V385.3H227.9V388.0H228.4V388.5H228.9V388.7H229.4V388.4H229.9V388.3H230.4V388.8H230.9V388.6H231.4V388.8H231.9V388.8H232.4V388.7H232.9V388.4H233.4V388.8H233.9V388.5H234.4V388.4H234.9V388.8H235.4V388.6H235.9V388.4H236.4V387.8H236.9V383.8H237.4V387.5H237.9V388.2H238.4V388.4H238.9V388.4H239.4V388.3H239.9V387.4H240.4V382.8H240.9V387.4H241.4V388.3H241.9V388.7H242.4V388.5H242.9V388.8H243.4V388.6H243.9V388.6H244.4V388.8H244.9V388.7H245.4V388.8H245.9V388.6H246.4V388.8H246.9V388.2H247.4V388.5H247.9V388.7H248.4V388.8H248.9V388.3H249.4V388.3H249.9V388.8H250.4V388.5H250.9V388.4H251.4V388.4H251.9V386.8H252.4V388.3H252.9V388.3H253.4V388.3H253.9V388.8H254.4V388.5H254.9V388.8H255.4V388.8H255.9V388.8H256.4V388.8H256.9V388.3H257.4V388.3H257.9V388.8H258.4V388.7H258.9V388.8H259.4V388.8H259.9V388.8H260.4V388.8H260.9V388.5H261.4V388.8H261.9V388.8H262.4V388.7H262.9V388.6H263.4V388.2H263.9V386.3H264.4V388.2H264.9V388.6H265.4V388.8H265.9V388.7H266.4V388.8H266.9V388.7H267.4V388.8H267.9V388.6H268.4V388.5H268.9V388.5H269.4V388.2H269.9V388.7H270.4V388.7H270.9V388.4H271.4V388.5H271.9V388.7H272.4V388.8H272.9V388.8H273.4V388.8H273.9V388.5H274.4V388.8H274.9V388.5H275.4V388.5H275.9V387.3H276.4V388.4H276.9V388.2H277.4V388.8H277.9V388.7H278.4V388.7H278.9V388.8H279.4V388.7H279.9V388.8H280.4V388.7H280.9V388.8H281.4V388.7H281.9V388.7H282.4V388.8H282.9V388.8H283.4V388.5H283.9V388.6H284.4V388.7H284.9V388.6H285.4V388.8H285.9V388.8H286.4V388.8H286.9V388.8H287.4V388.7H287.9V388.4H288.4V388.5H288.9V388.7H289.4V388.2H289.9V388.7H290.4V388.5H290.9V388.8H291.4V388.6H291.9V388.2H292.4V388.8H292.9V388.8H293.4V388.7H293.9V388.7H294.4V388.8H294.9V388.8H295.4V388.8H295.9V388.8H296.4V388.8H296.9V388.4H297.4V388.5H297.9V387.3H298.4V388.4H298.9V388.5H299.4V388.7H299.9V388.6H300.4V388.6H300.9V388.6H301.4V388.7H301.9V388.8H302.4V388.7H302.9V388.6H303.4V388.3H303.9V388.5H304.4V388.4H304.9V388.5H305.4V388.5H305.9V388.7H306.4V388.8H306.9V388.8H307.4V388.6H307.9V388.4H308.4V388.7H308.9V388.8H309.4V388.5H309.9V388.7H310.4V388.7H310.9V388.8H311.4V388.7H311.9V388.6H312.4V388.8H312.9V388.8H313.4V388.6H313.9V388.8H314.4V388.7H314.9V388.3H315.4V388.5H315.9V387.3H316.4V388.4H316.9V388.6H317.4V388.8H317.9V388.8H318.4V388.4H318.9V388.8H319.4V388.8H319.9V388.5H320.4V388.7H320.9V388.8H321.4V388.7H321.9V388.6H322.4V388.8H322.9V388.6H323.4V388.6H323.9V388.5H324.4V388.8H324.9V388.7H325.4V388.4H325.9V386.8H326.4V388.3H326.9V388.5H327.4V388.4H327.9V387.3H328.4V388.4H328.9V388.3H329.4V388.6H329.9V388.4H330.4V388.8H330.9V388.4H331.0V388.8Z"/>
<line x1="29.4" y1="409.3" x2="331.0" y2="409.3" stroke="#8fc4de" stroke-width="0.6"/>
<path fill="#2f8db5" d="M29.4 409.3H29.4V408.2H29.9V408.2H30.4V409.0H30.9V407.8H31.4V408.5H31.9V408.8H32.4V408.9H32.9V409.3H33.4V409.0H33.9V409.0H34.4V409.0H34.9V409.3H35.4V409.2H35.9V409.2H36.4V408.8H36.9V408.0H37.4V408.2H37.9V409.1H38.4V409.2H38.9V409.2H39.4V408.9H39.9V407.3H40.4V408.8H40.9V409.1H41.4V409.2H41.9V408.4H42.4V409.1H42.9V408.6H43.4V405.8H43.9V408.4H44.4V408.9H44.9V409.0H45.4V408.2H45.9V404.3H46.4V407.9H46.9V408.7H47.4V407.9H47.9V402.8H48.4V407.5H48.9V408.3H49.4V408.5H49.9V405.3H50.4V408.2H50.9V408.1H51.4V408.1H51.9V408.8H52.4V408.2H52.9V405.8H53.4V408.7H53.9V409.1H54.4V409.1H54.9V408.3H55.4V409.1H55.9V408.6H56.4V408.9H56.9V407.3H57.4V408.4H57.9V409.1H58.4V409.1H58.9V408.3H59.4V408.8H59.9V409.2H60.4V409.3H60.9V409.3H61.4V408.9H61.9V409.3H62.4V408.3H62.9V409.3H63.4V408.3H63.9V409.3H64.4V408.2H64.9V408.8H65.4V409.1H65.9V409.1H66.4V408.9H66.9V409.0H67.4V409.3H67.9V409.3H68.4V409.1H68.9V408.2H69.4V409.0H69.9V409.2H70.4V408.6H70.9V406.8H71.4V408.3H71.9V409.0H72.4V408.8H72.9V409.3H73.4V408.9H73.9V409.3H74.4V409.3H74.9V408.4H75.4V409.3H75.9V409.1H76.4V408.5H76.9V409.2H77.4V408.9H77.9V407.3H78.4V408.8H78.9V408.8H79.4V409.3H79.9V409.2H80.4V409.3H80.9V408.9H81.4V409.3H81.9V408.2H82.4V409.3H82.9V408.8H83.4V409.3H83.9V409.3H84.4V408.6H84.9V409.3H85.4V409.3H85.9V408.9H86.4V409.2H86.9V409.3H87.4V408.0H87.9V409.3H88.4V409.3H88.9V409.2H89.4V409.0H89.9V408.8H90.4V409.3H90.9V409.3H91.4V409.3H91.9V409.2H92.4V408.7H92.9V408.8H93.4V408.3H93.9V408.7H94.4V408.5H94.9V408.8H95.4V408.9H95.9V407.3H96.4V408.8H96.9V409.1H97.4V409.3H97.9V409.2H98.4V408.4H98.9V409.3H99.4V409.0H99.9V409.2H100.4V409.1H100.9V409.3H101.4V408.2H101.9V409.3H102.4V409.0H102.9V409.2H103.4V409.3H103.9V409.1H104.4V409.3H104.9V409.3H105.4V409.3H105.9V409.3H106.4V409.3H106.9V409.0H107.4V408.7H107.9V406.3H108.4V408.2H108.9V408.0H109.4V409.3H109.9V409.2H110.4V408.7H110.9V407.9H111.4V404.3H111.9V408.2H112.4V408.2H112.9V406.9H113.4V400.3H113.9V407.4H114.4V408.8H114.9V409.3H115.4V409.2H115.9V408.3H116.4V407.1H116.9V401.3H117.4V407.6H117.9V408.8H118.4V409.3H118.9V409.3H119.4V409.1H119.9V409.2H120.4V409.3H120.9V409.0H121.4V409.3H121.9V408.3H122.4V408.1H122.9V406.8H123.4V408.6H123.9V409.0H124.4V409.0H124.9V409.3H125.4V409.2H125.9V409.1H126.4V409.3H126.9V409.3H127.4V408.6H127.9V409.2H128.4V408.9H128.9V407.3H129.4V408.8H129.9V409.1H130.4V408.1H130.9V409.2H131.4V409.3H131.9V408.9H132.4V409.3H132.9V409.3H133.4V408.5H133.9V408.9H134.4V409.3H134.9V407.9H135.4V406.1H135.9V397.3H136.4V406.8H136.9V408.6H137.4V408.2H137.9V404.3H138.4V408.0H138.9V408.2H139.4V409.3H139.9V408.7H140.4V409.3H140.9V409.1H141.4V409.2H141.9V409.1H142.4V408.7H142.9V406.3H143.4V408.5H143.9V408.9H144.4V409.3H144.9V408.5H145.4V409.0H145.9V408.2H146.4V408.9H146.9V409.3H147.4V408.9H147.9V408.7H148.4V408.7H148.9V406.3H149.4V408.5H149.9V408.9H150.4V408.6H150.9V409.3H151.4V409.1H151.9V409.2H152.4V408.2H152.9V408.6H153.4V407.2H153.9V404.6H154.4V391.8H154.9V405.6H155.4V408.2H155.9V409.1H156.4V408.5H156.9V405.3H157.4V408.2H157.9V408.8H158.4V408.6H158.9V409.3H159.4V409.2H159.9V408.0H160.4V409.3H160.9V409.2H161.4V409.3H161.9V409.3H162.4V408.4H162.9V408.0H163.4V408.9H163.9V408.8H164.4V407.6H164.9V401.3H165.4V407.1H165.9V408.3H166.4V409.2H166.9V409.1H167.4V408.7H167.9V406.3H168.4V408.2H168.9V408.7H169.4V409.3H169.9V409.1H170.4V408.8H170.9V409.3H171.4V408.4H171.9V409.2H172.4V408.8H172.9V409.2H173.4V408.0H173.9V408.7H174.4V408.7H174.9V406.3H175.4V408.5H175.9V408.9H176.4V409.0H176.9V408.4H177.4V409.3H177.9V409.1H178.4V409.2H178.9V409.2H179.4V408.8H179.9V406.8H180.4V408.6H180.9V409.0H181.4V408.1H181.9V409.3H182.4V408.8H182.9V408.9H183.4V408.7H183.9V408.5H184.4V409.3H184.9V409.0H185.4V409.2H185.9V408.9H186.4V408.1H186.9V406.3H187.4V408.5H187.9V408.9H188.4V408.8H188.9V408.4H189.4V408.9H189.9V408.6H190.4V409.3H190.9V408.2H191.4V408.8H191.9V407.3H192.4V408.3H192.9V408.4H193.4V409.3H193.9V408.6H194.4V408.7H194.9V409.3H195.4V408.8H195.9V409.0H196.4V407.7H196.9V405.7H197.4V395.8H197.9V406.5H198.4V408.5H198.9V409.3H199.4V409.1H199.9V409.2H200.4V409.3H200.9V408.1H201.4V409.3H201.9V409.3H202.4V409.2H202.9V408.5H203.4V408.6H203.9V406.7H204.4V396.8H204.9V405.9H205.4V407.8H205.9V409.3H206.4V409.1H206.9V409.2H207.4V408.8H207.9V406.8H208.4V408.6H208.9V408.8H209.4V408.7H209.9V409.2H210.4V408.9H210.9V408.7H211.4V408.5H211.9V409.3H212.4V409.3H212.9V409.2H213.4V409.2H213.9V409.3H214.4V409.3H214.9V409.1H215.4V408.1H215.9V407.3H216.4V408.8H216.9V409.1H217.4V409.2H217.9V408.4H218.4V409.3H218.9V408.9H219.4V409.2H219.9V409.0H220.4V408.3H220.9V404.8H221.4V408.1H221.9V408.8H222.4V408.9H222.9V408.6H223.4V408.7H223.9V406.3H224.4V408.5H224.9V408.9H225.4V409.0H225.9V409.2H226.4V409.1H226.9V408.5H227.4V408.6H227.9V409.0H228.4V409.3H228.9V409.3H229.4V409.2H229.9V409.3H230.4V409.3H230.9V408.2H231.4V409.3H231.9V408.6H232.4V408.9H232.9V407.3H233.4V408.8H233.9V409.1H234.4V409.2H234.9V409.3H235.4V409.2H235.9V409.3H236.4V408.4H236.9V408.3H237.4V409.2H237.9V409.0H238.4V408.3H238.9V409.2H239.4V408.9H239.9V407.3H240.4V408.8H240.9V408.9H241.4V409.2H241.9V409.2H242.4V408.6H242.9V409.3H243.4V408.6H243.9V409.0H244.4V409.2H244.9V408.6H245.4V407.8H245.9V402.3H246.4V407.4H246.9V408.5H247.4V408.9H247.9V408.2H248.4V408.8H248.9V408.7H249.4V408.4H249.9V407.3H250.4V408.7H250.9V408.1H251.4V409.3H251.9V409.0H252.4V408.9H252.9V409.2H253.4V409.2H253.9V409.3H254.4V408.2H254.9V409.2H255.4V408.9H255.9V407.3H256.4V408.8H256.9V408.1H257.4V409.3H257.9V409.3H258.4V409.2H258.9V409.2H259.4V408.3H259.9V408.4H260.4V408.7H260.9V409.2H261.4V408.9H261.9V407.3H262.4V408.5H262.9V409.1H263.4V409.3H263.9V409.0H264.4V409.3H264.9V409.3H265.4V408.3H265.9V409.3H266.4V409.3H266.9V409.3H267.4V409.3H267.9V409.2H268.4V409.3H268.9V409.2H269.4V408.9H269.9V407.3H270.4V408.8H270.9V409.1H271.4V409.2H271.9V408.7H272.4V409.3H272.9V409.3H273.4V408.5H273.9V409.2H274.4V408.7H274.9V409.3H275.4V409.1H275.9V408.5H276.4V409.2H276.9V408.7H277.4V409.0H277.9V409.2H278.4V408.0H278.9V409.2H279.4V408.8H279.9V406.8H280.4V408.6H280.9V408.5H281.4V409.0H281.9V409.0H282.4V409.1H282.9V408.1H283.4V408.0H283.9V408.5H284.4V409.2H284.9V409.2H285.4V409.1H285.9V409.3H286.4V409.3H286.9V408.0H287.4V409.3H287.9V408.2H288.4V408.9H288.9V408.3H289.4V408.9H289.9V407.3H290.4V408.6H290.9V409.1H291.4V409.3H291.9V409.2H292.4V409.3H292.9V409.3H293.4V408.9H293.9V409.3H294.4V408.1H294.9V408.9H295.4V409.3H295.9V408.4H296.4V409.3H296.9V409.2H297.4V409.1H297.9V408.2H298.4V406.7H298.9V399.8H299.4V407.3H299.9V408.3H300.4V408.6H300.9V409.1H301.4V408.9H301.9V408.4H302.4V409.3H302.9V409.1H303.4V409.3H303.9V409.2H304.4V408.9H304.9V407.3H305.4V408.8H305.9V409.1H306.4V409.2H306.9V409.0H307.4V408.5H307.9V408.3H308.4V408.8H308.9V409.1H309.4V408.3H309.9V409.3H310.4V409.3H310.9V408.6H311.4V409.0H311.9V409.3H312.4V409.2H312.9V409.3H313.4V409.2H313.9V409.2H314.4V408.9H314.9V407.3H315.4V408.6H315.9V409.1H316.4V409.2H316.9V409.3H317.4V408.7H317.9V408.1H318.4V409.3H318.9V408.8H319.4V408.9H319.9V408.9H320.4V409.3H320.9V409.1H321.4V409.3H321.9V409.3H322.4V409.0H322.9V409.0H323.4V409.0H323.9V408.8H324.4V408.8H324.9V407.3H325.4V408.8H325.9V408.7H326.4V408.6H326.9V408.5H327.4V409.0H327.9V409.3H328.4V409.3H328.9V409.3H329.4V409.0H329.9V409.1H330.4V409.3H330.9V408.2H331.0V409.3Z"/>
<path fill="#d9561f" d="M29.4 429.4L29.4 420.2L30.4 420.1L31.5 419.9L32.5 420.4L33.6 419.7L34.6 420.1L35.7 420.4L36.7 419.8L37.8 420.1L38.8 420.2L39.9 419.7L40.9 419.9L42.0 420.2L43.0 420.0L44.0 420.6L45.0 420.5L46.0 420.6L47.0 420.5L48.0 420.8L49.0 421.2L50.0 420.9L51.0 421.1L52.0 420.8L53.0 421.1L54.0 420.6L55.0 420.8L56.0 421.1L57.0 421.1L58.0 420.9L59.0 420.7L60.0 420.8L61.0 420.3L62.0 419.8L63.0 420.3L64.0 419.8L65.0 420.4L66.0 420.5L67.0 419.8L68.0 420.1L69.0 420.3L70.0 419.9L71.0 420.3L72.0 420.7L73.0 420.1L74.0 420.5L75.0 420.2L76.0 420.7L77.0 421.1L78.0 420.6L79.0 420.6L80.0 420.8L81.0 421.3L82.0 421.0L83.0 421.2L84.0 421.5L85.0 421.9L86.0 421.5L87.0 421.5L88.0 421.8L89.0 421.4L90.0 421.8L91.0 421.5L92.0 421.9L93.0 422.2L94.0 421.5L95.0 421.9L96.0 422.0L97.0 421.6L98.0 421.8L99.0 422.4L100.0 422.4L101.0 421.7L102.0 422.3L103.0 422.5L104.0 422.0L105.0 422.3L106.0 421.9L107.0 422.2L108.0 422.5L109.0 422.5L110.0 422.7L111.0 421.7L112.0 421.4L113.0 421.8L114.0 421.6L115.0 421.5L116.0 421.4L117.0 421.9L118.0 421.6L119.0 421.1L120.0 421.7L121.0 421.4L122.0 421.4L123.0 421.3L124.0 421.5L125.0 421.4L126.0 421.1L127.0 421.4L128.0 420.9L129.0 421.4L130.0 420.7L131.0 421.2L132.0 421.2L133.0 420.9L134.0 420.9L135.0 420.5L136.0 420.8L137.0 420.5L138.0 420.2L139.0 420.8L140.0 420.2L141.0 420.1L142.0 420.3L143.0 419.8L144.0 419.9L145.0 419.3L146.0 420.2L147.0 420.0L148.0 420.1L149.0 421.1L150.0 420.7L151.0 421.5L152.0 421.6L153.0 421.4L154.0 421.0L155.0 421.1L156.0 421.4L157.0 421.6L158.0 421.9L159.0 422.2L160.0 421.7L161.0 421.5L162.0 426.8L163.1 426.5L164.1 426.5L165.2 426.9L166.2 427.0L167.3 426.6L168.3 426.9L169.4 427.1L170.4 427.2L171.5 426.9L172.0 423.3L173.0 422.8L174.0 423.2L175.0 423.3L176.0 423.5L177.0 423.2L178.0 422.9L179.0 422.9L180.0 423.3L181.0 423.0L182.0 423.3L183.0 422.8L184.0 423.3L185.0 422.8L186.0 422.6L187.0 421.9L188.0 421.2L189.0 420.4L190.0 419.4L191.0 419.1L192.0 419.2L193.0 419.4L194.0 418.9L195.0 419.0L196.0 418.1L197.0 419.0L198.0 419.1L199.0 418.9L200.0 419.0L201.0 419.1L202.0 419.4L203.0 418.7L204.0 419.2L205.0 419.2L206.0 419.0L207.0 419.4L208.0 419.6L209.0 419.4L210.0 420.1L211.0 420.2L212.0 420.5L213.0 420.9L214.0 420.6L215.0 421.3L216.0 421.4L217.0 423.3L218.0 424.3L219.0 424.8L220.0 424.7L221.0 424.7L222.0 424.9L223.0 424.2L224.0 424.7L225.0 424.7L226.0 424.8L227.0 424.6L228.0 424.4L229.0 424.5L230.0 424.9L231.0 424.5L232.0 424.5L233.0 424.7L234.0 424.8L235.0 424.9L236.0 424.5L237.0 425.2L238.0 424.8L239.0 425.2L240.0 424.6L241.0 424.9L242.0 424.1L243.0 423.9L244.0 423.5L245.0 422.9L246.0 422.3L247.0 422.5L248.0 422.4L249.0 422.9L250.0 422.4L251.0 422.5L252.0 422.4L253.0 422.4L254.0 423.1L255.0 423.1L256.0 422.7L257.0 423.0L258.0 422.8L259.0 422.8L260.0 422.7L261.0 422.9L262.0 422.6L263.0 422.6L264.5 425.2L265.5 424.9L266.6 425.1L267.6 425.5L268.6 424.8L269.7 424.8L270.7 425.4L271.7 424.8L272.8 424.9L273.8 425.4L274.8 425.2L275.9 424.8L276.9 424.7L277.9 424.8L279.0 424.9L280.0 425.2L281.0 425.4L282.0 425.2L283.0 425.3L284.0 425.3L285.0 425.3L286.0 425.3L287.0 425.3L288.0 424.6L289.0 424.8L290.0 424.7L291.0 425.0L292.0 424.9L293.0 424.7L294.0 425.1L295.0 424.8L296.0 424.6L297.0 424.7L298.0 424.8L299.0 424.9L300.0 424.9L301.0 424.8L302.0 424.6L303.0 424.8L304.0 424.8L305.0 424.7L306.0 425.1L307.0 424.8L308.0 425.3L309.0 425.3L310.0 424.9L311.0 425.3L312.0 425.1L313.0 425.3L314.0 425.4L315.0 425.6L316.0 425.7L317.0 425.6L318.0 425.2L319.0 425.5L320.0 425.4L321.0 425.2L322.0 425.6L323.0 425.8L324.0 426.3L325.0 426.0L326.0 426.6L327.0 426.5L328.0 426.3L329.0 426.9L330.0 426.7L331 427L331 429.4Z"/>
<rect x="83.3" y="419" width="0.9" height="10.5" fill="#fff" opacity="0.85"/>
<path d="M29.4 435.40000000000003 L92 435.40000000000003 L92 433.3 L100 436.6 L92 439.90000000000003 L92 437.8 L29.4 437.8 Z" fill="#5560a8"/>
<path d="M171 435.40000000000003 L109.5 435.40000000000003 L109.5 433.3 L101.5 436.6 L109.5 439.90000000000003 L109.5 437.8 L171 437.8 Z" fill="#5560a8"/>
<path d="M172 435.40000000000003 L255.2 435.40000000000003 L255.2 433.3 L263.2 436.6 L255.2 439.90000000000003 L255.2 437.8 L172 437.8 Z" fill="#a8d3e6"/>
<path d="M330.5 435.40000000000003 L272.8 435.40000000000003 L272.8 433.3 L264.8 436.6 L272.8 439.90000000000003 L272.8 437.8 L330.5 437.8 Z" fill="#5560a8"/>
<text x="23.7" y="445.4" font-size="7.3" fill="#222" stroke="#222" stroke-width="0.18">54.39</text>
<text x="81.3" y="445.4" font-size="7.3" fill="#222" stroke="#222" stroke-width="0.18">54.9</text>
<text x="105.3" y="445.4" font-size="7.3" fill="#222" stroke="#222" stroke-width="0.18">69.14</text>
<text x="155.8" y="445.4" font-size="7.3" fill="#222" stroke="#222" stroke-width="0.18">68.7</text>
<text x="178" y="445.4" font-size="7.3" fill="#222" stroke="#222" stroke-width="0.18">32.9</text>
<text x="241.3" y="445.4" font-size="7.3" fill="#222" stroke="#222" stroke-width="0.18">33.48</text>
<text x="270.7" y="445.4" font-size="7.3" fill="#222" stroke="#222" stroke-width="0.18">82.21</text>
<text x="311.2" y="445.4" font-size="7.3" fill="#222" stroke="#222" stroke-width="0.18">81.8Mb</text>
<circle cx="100" cy="450" r="5.1" fill="#fff" stroke="#7a8cc4" stroke-width="0.75"/>
<text x="100" y="452.6" font-size="7" fill="#4a5a98" text-anchor="middle">1</text>
<circle cx="171.7" cy="450" r="5.1" fill="#fff" stroke="#7a8cc4" stroke-width="0.75"/>
<text x="171.7" y="452.6" font-size="7" fill="#4a5a98" text-anchor="middle">2</text>
<circle cx="265.8" cy="450" r="5.1" fill="#fff" stroke="#7a8cc4" stroke-width="0.75"/>
<text x="265.8" y="452.6" font-size="7" fill="#4a5a98" text-anchor="middle">3</text>
<text x="45.2" y="458.8" font-size="9.5" fill="#222" stroke="#222" stroke-width="0.18">chr12</text>
<text x="129.8" y="458.8" font-size="9.5" fill="#222" stroke="#222" stroke-width="0.18">chr12</text>
<text x="205" y="458.8" font-size="9.5" fill="#222" stroke="#222" stroke-width="0.18">chr8</text>
<text x="291" y="458.8" font-size="9.5" fill="#222" stroke="#222" stroke-width="0.18">chr12</text>
<text x="333.6" y="13.2" font-size="12.2" fill="#111" stroke="#111" stroke-width="0.18" font-weight="bold">C</text>
<rect x="357" y="10.6" width="147.6" height="100.6" fill="#f7f3f4"/>
<rect x="358.8" y="28" width="144.8" height="10.4" fill="#8cc63f"/><path fill="#a6d646" d="M359.3 28h2.0V38.4h-2.0zM420.6 28h1.6V38.4h-1.6zM488.8 28h1.5V38.4h-1.5z"/><path fill="#3f8f3f" d="M364.6 28h1.8V38.4h-1.8z"/><path fill="#4d9a48" d="M368.6 28h2.8V38.4h-2.8zM372.4 28h1.3V38.4h-1.3zM453.3 28h0.9V38.4h-0.9z"/><path fill="#246e5a" d="M375.7 28h2.0V38.4h-2.0zM393.3 28h2.4V38.4h-2.4zM398.3 28h2.8V38.4h-2.8zM411.8 28h1.4V38.4h-1.4zM416.0 28h2.7V38.4h-2.7zM454.5 28h2.6V38.4h-2.6zM460.3 28h0.8V38.4h-0.8zM468.9 28h2.5V38.4h-2.5zM481.5 28h1.2V38.4h-1.2zM493.8 28h2.8V38.4h-2.8zM497.9 28h2.7V38.4h-2.7z"/><path fill="#2a6a80" d="M380.0 28h1.1V38.4h-1.1zM403.8 28h2.1V38.4h-2.1zM409.0 28h1.0V38.4h-1.0zM434.6 28h3.0V38.4h-3.0z"/><path fill="#2e7d4f" d="M384.3 28h2.0V38.4h-2.0zM388.7 28h0.9V38.4h-0.9zM429.1 28h2.3V38.4h-2.3zM464.0 28h2.7V38.4h-2.7zM483.8 28h1.4V38.4h-1.4z"/><path fill="#1f5f6a" d="M390.7 28h0.9V38.4h-0.9zM449.2 28h3.0V38.4h-3.0zM474.0 28h1.5V38.4h-1.5zM477.4 28h3.0V38.4h-3.0z"/><path fill="#5aa83c" d="M424.2 28h1.7V38.4h-1.7zM444.9 28h2.1V38.4h-2.1z"/><path fill="#2f6e70" d="M440.1 28h1.5V38.4h-1.5zM480.4 28h1.0V38.4h-1.0zM503.0 28h0.6V38.4h-0.6z"/>
<rect x="358.6" y="99.6" width="145.0" height="9.6" fill="#8cc63f"/><path fill="#246e5a" d="M359.1 99.6h1.0V109.2h-1.0zM387.2 99.6h2.1V109.2h-2.1zM496.2 99.6h1.3V109.2h-1.3z"/><path fill="#2e7d4f" d="M361.8 99.6h1.0V109.2h-1.0zM364.3 99.6h2.8V109.2h-2.8zM460.1 99.6h0.8V109.2h-0.8zM478.7 99.6h2.9V109.2h-2.9z"/><path fill="#1f5f6a" d="M367.9 99.6h2.0V109.2h-2.0zM372.7 99.6h2.6V109.2h-2.6zM376.1 99.6h2.8V109.2h-2.8zM381.9 99.6h1.2V109.2h-1.2zM399.3 99.6h0.8V109.2h-0.8zM405.7 99.6h1.7V109.2h-1.7zM409.0 99.6h1.2V109.2h-1.2zM413.8 99.6h2.2V109.2h-2.2zM436.6 99.6h2.9V109.2h-2.9z"/><path fill="#a6d646" d="M384.2 99.6h2.7V109.2h-2.7zM417.8 99.6h2.2V109.2h-2.2zM426.6 99.6h1.6V109.2h-1.6zM430.5 99.6h1.2V109.2h-1.2zM445.3 99.6h2.9V109.2h-2.9zM462.6 99.6h1.6V109.2h-1.6zM483.6 99.6h2.1V109.2h-2.1z"/><path fill="#4d9a48" d="M391.2 99.6h1.2V109.2h-1.2zM424.4 99.6h1.2V109.2h-1.2zM455.3 99.6h1.2V109.2h-1.2zM467.8 99.6h2.1V109.2h-2.1zM499.3 99.6h1.3V109.2h-1.3z"/><path fill="#2f6e70" d="M393.4 99.6h2.9V109.2h-2.9zM402.2 99.6h2.7V109.2h-2.7zM489.3 99.6h1.1V109.2h-1.1z"/><path fill="#3f8f3f" d="M411.1 99.6h2.6V109.2h-2.6zM420.6 99.6h2.3V109.2h-2.3zM441.1 99.6h0.9V109.2h-0.9zM452.5 99.6h1.7V109.2h-1.7z"/><path fill="#5aa83c" d="M432.1 99.6h0.9V109.2h-0.9zM434.1 99.6h2.1V109.2h-2.1zM473.4 99.6h1.7V109.2h-1.7zM491.4 99.6h3.0V109.2h-3.0zM501.5 99.6h2.1V109.2h-2.1z"/><path fill="#2a6a80" d="M448.2 99.6h1.4V109.2h-1.4zM457.5 99.6h1.4V109.2h-1.4zM475.6 99.6h0.9V109.2h-0.9z"/>
<rect x="368" y="56.4" width="134.3" height="9.9" fill="#48c0bb"/><path fill="#3a6f98" d="M369.2 56.4h2.1V66.3h-2.1zM398.9 56.4h0.7V66.3h-0.7zM413.4 56.4h2.5V66.3h-2.5zM467.8 56.4h1.3V66.3h-1.3zM470.1 56.4h1.5V66.3h-1.5zM485.6 56.4h1.3V66.3h-1.3zM495.5 56.4h0.7V66.3h-0.7z"/><path fill="#2a78a0" d="M371.4 56.4h1.5V66.3h-1.5zM388.6 56.4h1.4V66.3h-1.4zM393.7 56.4h2.1V66.3h-2.1zM406.9 56.4h0.6V66.3h-0.6zM411.3 56.4h0.9V66.3h-0.9zM419.4 56.4h1.9V66.3h-1.9zM428.2 56.4h1.3V66.3h-1.3zM463.9 56.4h1.0V66.3h-1.0zM490.0 56.4h0.8V66.3h-0.8zM498.3 56.4h1.4V66.3h-1.4z"/><path fill="#1f8a9e" d="M375.6 56.4h2.4V66.3h-2.4zM384.0 56.4h1.7V66.3h-1.7zM402.1 56.4h0.9V66.3h-0.9zM435.6 56.4h1.8V66.3h-1.8zM439.8 56.4h2.0V66.3h-2.0zM451.9 56.4h0.7V66.3h-0.7zM477.0 56.4h2.5V66.3h-2.5z"/><path fill="#2f9aa8" d="M379.5 56.4h2.3V66.3h-2.3zM425.0 56.4h2.0V66.3h-2.0zM443.1 56.4h2.2V66.3h-2.2zM448.1 56.4h1.0V66.3h-1.0zM456.4 56.4h1.3V66.3h-1.3zM461.5 56.4h2.3V66.3h-2.3zM465.4 56.4h1.1V66.3h-1.1zM493.6 56.4h1.2V66.3h-1.2z"/><path fill="#167483" d="M433.3 56.4h1.1V66.3h-1.1zM457.8 56.4h2.2V66.3h-2.2zM474.7 56.4h2.2V66.3h-2.2zM480.3 56.4h1.6V66.3h-1.6zM487.3 56.4h2.0V66.3h-2.0z"/>
<rect x="444.5" y="56.4" width="3" height="9.9" fill="#3a6c98"/><rect x="447.5" y="56.4" width="6.2" height="9.9" fill="#c89b7e"/>
<rect x="358.8" y="28" width="24.5" height="10.4" fill="#6caa5c"/>
<rect x="359.8" y="29" width="22.2" height="8.4" fill="#b4d4a6"/>
<text x="361" y="36.3" font-size="8.0" fill="#1a2636" stroke="#1a2636" stroke-width="0.18" font-weight="bold">chr12</text>
<rect x="358.8" y="99.6" width="24.5" height="9.6" fill="#6caa5c"/>
<rect x="359.8" y="100.6" width="22.2" height="7.6" fill="#b4d4a6"/>
<text x="361" y="107.10000000000001" font-size="8.0" fill="#1a2636" stroke="#1a2636" stroke-width="0.18" font-weight="bold">chr12</text>
<text x="359.2" y="53.6" font-size="7.6" fill="#333" stroke="#333" stroke-width="0.18">contig</text>
<line x1="359.6" y1="28" x2="359.6" y2="24.5" stroke="#555" stroke-width="0.5"/>
<text x="359.6" y="24" font-size="5.8" fill="#222" stroke="#222" stroke-width="0.15" transform="rotate(-37 359.6 24)">54.4 M</text>
<line x1="399.6" y1="28" x2="399.6" y2="24.5" stroke="#555" stroke-width="0.5"/>
<text x="399.6" y="24" font-size="5.8" fill="#222" stroke="#222" stroke-width="0.15" transform="rotate(-37 399.6 24)">54.6 M</text>
<line x1="440.3" y1="28" x2="440.3" y2="24.5" stroke="#555" stroke-width="0.5"/>
<text x="440.3" y="24" font-size="5.8" fill="#222" stroke="#222" stroke-width="0.15" transform="rotate(-37 440.3 24)">54.8 M</text>
<line x1="479.5" y1="28" x2="479.5" y2="24.5" stroke="#555" stroke-width="0.5"/>
<text x="479.5" y="24" font-size="5.8" fill="#222" stroke="#222" stroke-width="0.15" transform="rotate(-37 479.5 24)">55 M</text>
<line x1="383.5" y1="100" x2="383.5" y2="96.5" stroke="#555" stroke-width="0.5"/>
<text x="383.5" y="96" font-size="5.8" fill="#222" stroke="#222" stroke-width="0.15" transform="rotate(-37 383.5 96)">68.8 M</text>
<line x1="424.5" y1="100" x2="424.5" y2="96.5" stroke="#555" stroke-width="0.5"/>
<text x="424.5" y="96" font-size="5.8" fill="#222" stroke="#222" stroke-width="0.15" transform="rotate(-37 424.5 96)">69 M</text>
<line x1="463" y1="100" x2="463" y2="96.5" stroke="#555" stroke-width="0.5"/>
<text x="463" y="96" font-size="5.8" fill="#222" stroke="#222" stroke-width="0.15" transform="rotate(-37 463 96)">69.2 M</text>
<path d="M412 38.4 L448 38.4 L500 56.4 L480 56.4 Z" fill="#9aa6cc" opacity="0.35"/>
<line x1="410" y1="38.4" x2="500" y2="56.4" stroke="#7a86b8" stroke-width="0.45" opacity="0.8"/>
<line x1="418" y1="38.4" x2="496" y2="56.4" stroke="#7a86b8" stroke-width="0.45" opacity="0.8"/>
<line x1="426" y1="38.4" x2="492" y2="56.4" stroke="#7a86b8" stroke-width="0.45" opacity="0.8"/>
<line x1="434" y1="38.4" x2="488" y2="56.4" stroke="#7a86b8" stroke-width="0.45" opacity="0.8"/>
<line x1="442" y1="38.4" x2="484" y2="56.4" stroke="#7a86b8" stroke-width="0.45" opacity="0.8"/>
<line x1="448" y1="38.4" x2="478" y2="56.4" stroke="#7a86b8" stroke-width="0.45" opacity="0.8"/>
<line x1="446" y1="38.4" x2="470" y2="56.4" stroke="#7a86b8" stroke-width="0.5"/>
<line x1="470" y1="38.4" x2="448" y2="56.4" stroke="#7a86b8" stroke-width="0.5"/>
<line x1="459.5" y1="38.4" x2="453.5" y2="56.4" stroke="#d0607a" stroke-width="0.7"/>
<path d="M369.3 66.3L371.0 99.6M371.1 66.3L370.8 99.6M373.0 66.3L369.0 99.6M376.3 66.3L372.0 99.6M377.8 66.3L375.4 99.6M379.4 66.3L377.4 99.6M381.0 66.3L381.6 99.6M382.8 66.3L378.7 99.6M384.6 66.3L380.8 99.6M387.2 66.3L388.4 99.6M389.1 66.3L384.0 99.6M390.8 66.3L392.8 99.6M392.5 66.3L391.5 99.6M394.9 66.3L394.2 99.6M396.8 66.3L396.3 99.6M399.0 66.3L398.2 99.6M401.6 66.3L400.2 99.6M402.4 66.3L396.9 99.6M405.5 66.3L403.4 99.6M406.3 66.3L407.9 99.6M408.9 66.3L408.7 99.6M411.3 66.3L407.6 99.6M412.4 66.3L413.5 99.6M414.1 66.3L414.2 99.6M415.9 66.3L415.5 99.6M418.8 66.3L420.4 99.6M421.0 66.3L419.0 99.6M421.9 66.3L417.1 99.6M424.4 66.3L422.5 99.6M425.7 66.3L426.9 99.6M428.3 66.3L427.9 99.6M429.8 66.3L425.7 99.6M431.4 66.3L428.2 99.6M433.8 66.3L431.1 99.6M435.9 66.3L436.5 99.6M438.6 66.3L434.0 99.6M439.8 66.3L435.1 99.6M442.1 66.3L443.9 99.6M443.4 66.3L443.5 99.6M445.5 66.3L439.6 99.6" stroke="#98a2cc" stroke-width="0.5" fill="none" opacity="0.85"/>
<path d="M372 66.3 L444 66.3 L440 99.6 L362 99.6 Z" fill="#c8cce0" opacity="0.25"/>
<line x1="446.2" y1="66.3" x2="451" y2="99.6" stroke="#c06080" stroke-width="0.7"/>
<circle cx="369.2" cy="83" r="10.4" fill="#fff" stroke="#7c86c4" stroke-width="0.9"/>
<text x="369.2" y="87.4" font-size="12.5" fill="#222" stroke="#222" stroke-width="0.18" text-anchor="middle">1</text>
<text x="359.8" y="145.8" font-size="10.8" fill="#222" stroke="#222" stroke-width="0.18">chr12:68.7Mb</text>
<text x="442.7" y="145.8" font-size="10.8" fill="#222" stroke="#222" stroke-width="0.18">chr12:32.9Mb</text>
<path fill="#ec939a" d="M350.6 156.30H378.5v1.51H350.6zM353.3 157.92H382.2v1.51H353.3zM355.4 159.54H379.6v1.51H355.4zM358.5 161.16H387.6v1.51H358.5zM360.9 162.78H389.8v1.51H360.9zM362.1 164.40H395.0v1.51H362.1zM365.4 166.02H395.8v1.51H365.4zM368.4 167.64H401.1v1.51H368.4zM370.4 169.26H402.5v1.51H370.4zM372.7 170.88H405.4v1.51H372.7zM375.1 172.50H410.3v1.51H375.1zM378.9 174.12H410.2v1.51H378.9zM380.2 175.74H416.5v1.51H380.2zM382.1 177.36H415.1v1.51H382.1zM383.1 178.98H422.4v1.51H383.1zM384.2 180.60H421.4v1.51H384.2zM385.5 182.22H424.7v1.51H385.5zM386.9 183.84H421.9v1.51H386.9zM387.8 185.46H424.2v1.51H387.8zM390.6 187.08H429.3v1.51H390.6zM393.4 188.70H429.2v1.51H393.4zM394.4 190.32H430.9v1.51H394.4zM396.8 191.94H432.1v1.51H396.8zM398.8 193.56H428.5v1.51H398.8zM399.4 195.18H433.5v1.51H399.4zM401.8 196.80H430.1v1.51H401.8zM403.2 198.42H434.2v1.51H403.2zM405.3 200.04H431.7v1.51H405.3zM406.7 201.66H432.5v1.51H406.7zM406.7 203.28H434.8v1.51H406.7zM408.8 204.90H432.1v1.51H408.8zM409.9 206.52H437.4v1.51H409.9zM411.8 208.14H436.8v1.51H411.8zM412.4 209.76H433.4v1.51H412.4zM413.1 211.38H436.7v1.51H413.1zM415.0 213.00H438.9v1.51H415.0zM415.7 214.62H436.3v1.51H415.7zM417.3 216.24H435.4v1.51H417.3zM417.6 217.86H439.6v1.51H417.6zM418.2 219.48H438.4v1.51H418.2zM420.0 221.10H437.9v1.51H420.0zM419.7 222.72H439.9v1.51H419.7zM420.6 224.34H439.2v1.51H420.6zM422.5 225.96H442.8v1.51H422.5zM422.6 227.58H439.7v1.51H422.6zM424.0 229.20H442.3v1.51H424.0zM424.7 230.82H443.7v1.51H424.7zM425.3 232.44H442.6v1.51H425.3zM425.8 234.06H445.0v1.51H425.8zM426.5 235.68H441.9v1.51H426.5zM426.1 237.30H445.3v1.51H426.1zM427.0 238.92H448.6v1.51H427.0zM428.3 240.54H447.3v1.51H428.3zM429.4 242.16H448.0v1.51H429.4zM428.8 243.78H446.3v1.51H428.8zM430.2 245.40H448.6v1.51H430.2zM430.2 247.02H451.4v1.51H430.2zM430.9 248.64H449.5v1.51H430.9zM431.8 250.26H449.9v1.51H431.8z"/>
<path fill="#8a8a8e" d="M378.5 156.30H417.7v1.51H378.5zM382.2 157.92H413.7v1.51H382.2zM379.6 159.54H420.0v1.51H379.6zM420.0 159.54H452.1v1.51H420.0zM387.6 161.16H419.1v1.51H387.6zM389.8 162.78H422.9v1.51H389.8zM422.9 162.78H436.8v1.51H422.9zM395.0 164.40H418.6v1.51H395.0zM395.8 166.02H423.1v1.51H395.8zM401.1 167.64H423.4v1.51H401.1zM423.4 167.64H450.7v1.51H423.4zM402.5 169.26H419.9v1.51H402.5zM405.4 170.88H427.3v1.51H405.4zM410.3 172.50H428.0v1.51H410.3zM410.2 174.12H425.1v1.51H410.2zM416.5 175.74H423.6v1.51H416.5zM415.1 177.36H425.8v1.51H415.1zM422.4 178.98H426.9v1.51H422.4zM426.9 178.98H471.0v1.51H426.9zM421.4 180.60H427.9v1.51H421.4zM424.7 182.22H430.3v1.51H424.7zM421.9 183.84H429.2v1.51H421.9zM424.2 185.46H435.0v1.51H424.2zM429.2 188.70H434.0v1.51H429.2zM430.9 190.32H482.9v1.51H430.9zM432.1 191.94H437.5v1.51H432.1zM428.5 193.56H434.0v1.51H428.5zM433.5 195.18H440.1v1.51H433.5zM430.1 196.80H443.0v1.51H430.1zM434.2 198.42H435.8v1.51H434.2zM431.7 200.04H445.8v1.51H431.7zM432.5 201.66H442.0v1.51H432.5zM434.8 203.28H441.1v1.51H434.8zM432.1 204.90H446.9v1.51H432.1zM437.4 206.52H446.1v1.51H437.4zM436.8 208.14H447.5v1.51H436.8zM433.4 209.76H444.0v1.51H433.4zM436.7 211.38H448.3v1.51H436.7zM438.9 213.00H449.0v1.51H438.9zM436.3 214.62H452.6v1.51H436.3zM435.4 216.24H447.3v1.51H435.4zM439.6 217.86H448.7v1.51H439.6zM438.4 219.48H452.0v1.51H438.4zM437.9 221.10H453.2v1.51H437.9zM439.9 222.72H451.1v1.51H439.9zM451.1 222.72H475.2v1.51H451.1zM439.2 224.34H440.3v1.51H439.2zM442.8 225.96H448.7v1.51H442.8zM439.7 227.58H452.4v1.51H439.7zM442.3 229.20H458.4v1.51H442.3zM443.7 230.82H455.2v1.51H443.7zM445.0 234.06H456.2v1.51H445.0zM441.9 235.68H460.0v1.51H441.9zM445.3 237.30H459.3v1.51H445.3zM448.6 238.92H457.2v1.51H448.6zM447.3 240.54H453.7v1.51H447.3zM448.0 242.16H456.1v1.51H448.0zM446.3 243.78H456.5v1.51H446.3zM448.6 245.40H462.5v1.51H448.6zM451.4 247.02H461.0v1.51H451.4zM449.5 248.64H459.4v1.51H449.5zM449.9 250.26H456.7v1.51H449.9z"/>
<path fill="#8585cc" d="M417.7 156.30H443.9v1.51H417.7zM413.7 157.92H445.3v1.51H413.7zM419.1 161.16H437.0v1.51H419.1zM418.6 164.40H448.6v1.51H418.6zM423.1 166.02H438.4v1.51H423.1zM427.3 170.88H447.5v1.51H427.3zM428.0 172.50H436.2v1.51H428.0zM423.6 175.74H461.0v1.51H423.6zM425.8 177.36H443.0v1.51H425.8zM427.9 180.60H447.4v1.51H427.9zM430.3 182.22H469.7v1.51H430.3zM429.2 183.84H454.7v1.51H429.2zM435.0 185.46H439.3v1.51H435.0zM429.3 187.08H449.0v1.51H429.3zM434.0 193.56H467.7v1.51H434.0zM440.1 195.18H448.1v1.51H440.1zM443.0 196.80H454.0v1.51H443.0zM435.8 198.42H502.4v1.51H435.8zM445.8 200.04H482.4v1.51H445.8zM442.0 201.66H478.9v1.51H442.0zM446.9 204.90H506.7v1.51H446.9zM448.3 211.38H507.1v1.51H448.3zM447.3 216.24H463.6v1.51H447.3zM448.7 217.86H494.1v1.51H448.7zM452.0 219.48H490.2v1.51H452.0zM453.2 221.10H455.2v1.51H453.2zM452.4 227.58H474.0v1.51H452.4zM455.2 230.82H495.8v1.51H455.2zM456.2 234.06H495.1v1.51H456.2zM434.3 235.68H441.9v1.51H434.3zM460.0 235.68H486.1v1.51H460.0zM457.2 238.92H462.6v1.51H457.2zM456.5 243.78H470.6v1.51H456.5zM461.0 247.02H488.2v1.51H461.0z"/>
<path fill="#b4b4e4" d="M448.6 164.40H454.2v1.51H448.6zM438.4 166.02H457.9v1.51H438.4zM450.7 167.64H463.2v1.51H450.7zM440.8 169.26H450.0v1.51H440.8zM453.9 174.12H468.3v1.51H453.9zM461.0 175.74H466.8v1.51H461.0zM447.4 180.60H451.5v1.51H447.4zM434.0 188.70H471.7v1.51H434.0zM471.7 188.70H483.7v1.51H471.7zM482.9 190.32H496.0v1.51H482.9zM437.5 191.94H457.8v1.51H437.5zM467.7 193.56H478.3v1.51H467.7zM448.1 195.18H466.2v1.51H448.1zM482.4 200.04H490.6v1.51H482.4zM446.1 206.52H484.7v1.51H446.1zM447.5 208.14H474.4v1.51H447.5zM474.4 208.14H477.8v1.51H474.4zM444.0 209.76H482.7v1.51H444.0zM482.7 209.76H489.7v1.51H482.7zM463.6 216.24H469.6v1.51H463.6zM490.2 219.48H497.5v1.51H490.2zM475.2 222.72H484.7v1.51H475.2zM427.1 225.96H442.8v1.51H427.1zM448.7 225.96H477.8v1.51H448.7zM477.8 225.96H480.9v1.51H477.8zM474.0 227.58H486.7v1.51H474.0zM463.1 229.20H475.9v1.51H463.1zM495.8 230.82H514.1v1.51H495.8zM495.1 234.06H503.0v1.51H495.1zM486.1 235.68H490.1v1.51H486.1zM484.7 237.30H491.0v1.51H484.7zM434.6 238.92H448.6v1.51H434.6zM453.7 240.54H465.2v1.51H453.7zM470.6 243.78H479.6v1.51H470.6zM432.2 245.40H448.6v1.51H432.2zM481.6 248.64H485.0v1.51H481.6zM442.2 250.26H449.9v1.51H442.2zM480.6 250.26H500.4v1.51H480.6z"/>
<path fill="#6a6ab8" d="M419.9 169.26H440.8v1.51H419.9zM425.1 174.12H453.9v1.51H425.1zM441.1 203.28H477.0v1.51H441.1zM423.0 211.38H436.7v1.51H423.0zM449.0 213.00H494.3v1.51H449.0zM452.6 214.62H469.0v1.51H452.6zM458.4 229.20H463.1v1.51H458.4zM437.7 237.30H445.3v1.51H437.7zM459.3 237.30H484.7v1.51H459.3zM456.1 242.16H490.4v1.51H456.1zM462.5 245.40H481.3v1.51H462.5zM459.4 248.64H481.6v1.51H459.4zM456.7 250.26H480.6v1.51H456.7z"/>
<line x1="433.8" y1="156" x2="433.8" y2="253" stroke="#22224a" stroke-width="0.9"/>
<line x1="349.6" y1="258.3" x2="434" y2="258.3" stroke="#2c44a4" stroke-width="1.3"/>
<line x1="434" y1="258.3" x2="516.5" y2="258.3" stroke="#f4a52a" stroke-width="1.3"/>
<path d="M350.6 255.0V261.6M351.5 255.70000000000002L350.6 258.3L351.5 260.90000000000003M358.5 255.0V261.6M359.4 255.70000000000002L358.5 258.3L359.4 260.90000000000003M366.4 255.0V261.6M367.3 255.70000000000002L366.4 258.3L367.3 260.90000000000003M374.3 255.0V261.6M375.2 255.70000000000002L374.3 258.3L375.2 260.90000000000003M382.2 255.0V261.6M383.1 255.70000000000002L382.2 258.3L383.1 260.90000000000003M390.1 255.0V261.6M391.0 255.70000000000002L390.1 258.3L391.0 260.90000000000003M398.0 255.0V261.6M398.9 255.70000000000002L398.0 258.3L398.9 260.90000000000003M405.9 255.0V261.6M406.8 255.70000000000002L405.9 258.3L406.8 260.90000000000003M413.8 255.0V261.6M414.7 255.70000000000002L413.8 258.3L414.7 260.90000000000003M421.7 255.0V261.6M422.6 255.70000000000002L421.7 258.3L422.6 260.90000000000003M429.6 255.0V261.6M430.5 255.70000000000002L429.6 258.3L430.5 260.90000000000003" stroke="#2c44a4" stroke-width="0.9" fill="none"/>
<path d="M437.5 255.0V261.6M436.6 255.70000000000002L437.5 258.3L436.6 260.90000000000003M445.4 255.0V261.6M444.5 255.70000000000002L445.4 258.3L444.5 260.90000000000003M453.3 255.0V261.6M452.4 255.70000000000002L453.3 258.3L452.4 260.90000000000003M461.2 255.0V261.6M460.3 255.70000000000002L461.2 258.3L460.3 260.90000000000003M469.1 255.0V261.6M468.2 255.70000000000002L469.1 258.3L468.2 260.90000000000003M477.0 255.0V261.6M476.1 255.70000000000002L477.0 258.3L476.1 260.90000000000003M484.9 255.0V261.6M484.0 255.70000000000002L484.9 258.3L484.0 260.90000000000003M492.8 255.0V261.6M491.9 255.70000000000002L492.8 258.3L491.9 260.90000000000003M500.7 255.0V261.6M499.8 255.70000000000002L500.7 258.3L499.8 260.90000000000003M508.6 255.0V261.6M507.7 255.70000000000002L508.6 258.3L507.7 260.90000000000003M516.5 255.0V261.6M515.6 255.70000000000002L516.5 258.3L515.6 260.90000000000003" stroke="#f4a52a" stroke-width="0.9" fill="none"/>
<text x="408.5" y="273.8" font-size="10.7" fill="#222" stroke="#222" stroke-width="0.18">Breakpoint</text>
<circle cx="369.8" cy="234.4" r="10.4" fill="#fff" stroke="#7c86c4" stroke-width="0.9"/>
<text x="369.8" y="238.8" font-size="12.5" fill="#222" stroke="#222" stroke-width="0.18" text-anchor="middle">2</text>
<text x="360.8" y="307.1" font-size="10.8" fill="#222" stroke="#222" stroke-width="0.18">chr8:33.48Mb</text>
<text x="441.7" y="307.1" font-size="10.8" fill="#222" stroke="#222" stroke-width="0.18">chr12:82.21Mb</text>
<path fill="#ec939a" d="M360.9 316.20H384.0v1.51H360.9zM363.8 317.82H386.8v1.51H363.8zM368.4 319.44H388.8v1.51H368.4zM372.4 321.06H393.9v1.51H372.4zM376.4 322.68H397.4v1.51H376.4zM380.1 324.30H396.7v1.51H380.1zM380.9 325.92H401.0v1.51H380.9zM382.2 327.54H406.1v1.51H382.2zM384.8 329.16H402.8v1.51H384.8zM385.5 330.78H407.5v1.51H385.5zM386.6 332.40H405.4v1.51H386.6zM387.3 334.02H409.3v1.51H387.3zM390.0 335.64H411.2v1.51H390.0zM390.2 337.26H409.3v1.51H390.2zM392.5 338.88H411.2v1.51H392.5zM393.6 340.50H411.2v1.51H393.6zM394.7 342.12H415.2v1.51H394.7zM395.5 343.74H414.7v1.51H395.5zM395.6 345.36H414.7v1.51H395.6zM397.1 346.98H413.5v1.51H397.1zM399.0 348.60H418.8v1.51H399.0zM400.2 350.22H414.6v1.51H400.2zM399.8 351.84H415.7v1.51H399.8zM400.0 353.46H420.3v1.51H400.0zM401.4 355.08H419.1v1.51H401.4zM401.4 356.70H423.1v1.51H401.4zM401.6 358.32H423.3v1.51H401.6zM402.0 359.94H419.4v1.51H402.0zM403.9 361.56H419.9v1.51H403.9zM403.1 363.18H421.1v1.51H403.1zM403.7 364.80H422.7v1.51H403.7zM405.4 366.42H427.0v1.51H405.4zM405.9 368.04H424.3v1.51H405.9zM406.9 369.66H428.0v1.51H406.9zM406.1 371.28H426.2v1.51H406.1zM407.2 372.90H430.0v1.51H407.2zM407.5 374.52H428.7v1.51H407.5zM407.7 376.14H431.8v1.51H407.7zM408.4 377.76H431.7v1.51H408.4zM409.0 379.38H429.9v1.51H409.0zM410.0 381.00H428.5v1.51H410.0zM411.8 382.62H432.9v1.51H411.8zM411.1 384.24H433.8v1.51H411.1zM411.8 385.86H432.2v1.51H411.8zM413.7 387.48H432.4v1.51H413.7zM414.2 389.10H432.5v1.51H414.2zM414.3 390.72H432.5v1.51H414.3zM414.8 392.34H435.5v1.51H414.8zM415.6 393.96H433.2v1.51H415.6zM415.7 395.58H436.8v1.51H415.7zM416.2 397.20H435.4v1.51H416.2zM416.8 398.82H437.9v1.51H416.8zM417.9 400.44H436.8v1.51H417.9zM419.0 402.06H438.4v1.51H419.0zM419.6 403.68H440.8v1.51H419.6zM420.1 405.30H437.1v1.51H420.1zM419.4 406.92H436.9v1.51H419.4zM420.4 408.54H437.4v1.51H420.4zM420.7 410.16H441.9v1.51H420.7zM421.9 411.78H442.7v1.51H421.9zM422.6 413.40H439.6v1.51H422.6zM423.0 415.02H442.2v1.51H423.0zM422.9 416.64H439.7v1.51H422.9zM423.3 418.26H440.6v1.51H423.3zM423.3 419.88H443.4v1.51H423.3zM423.8 421.50H441.8v1.51H423.8zM424.8 423.12H445.7v1.51H424.8zM425.5 424.74H446.2v1.51H425.5zM425.4 426.36H445.8v1.51H425.4zM426.1 427.98H448.1v1.51H426.1zM425.9 429.60H446.8v1.51H425.9zM426.8 431.22H446.8v1.51H426.8zM428.5 432.84H444.8v1.51H428.5zM428.2 434.46H444.3v1.51H428.2zM428.1 436.08H443.0v1.51H428.1zM429.9 437.70H444.9v1.51H429.9zM429.8 439.32H450.6v1.51H429.8zM430.4 440.94H451.4v1.51H430.4zM431.2 442.56H446.8v1.51H431.2zM431.0 444.18H449.4v1.51H431.0zM431.1 445.80H438.8v1.51H431.1z"/>
<path fill="#8a8a8e" d="M384.0 316.20H418.7v1.51H384.0zM418.7 316.20H445.5v1.51H418.7zM386.8 317.82H420.4v1.51H386.8zM420.4 317.82H460.7v1.51H420.4zM388.8 319.44H417.4v1.51H388.8zM393.9 321.06H418.1v1.51H393.9zM397.4 322.68H411.9v1.51H397.4zM396.7 324.30H414.5v1.51H396.7zM401.0 325.92H417.5v1.51H401.0zM406.1 327.54H418.4v1.51H406.1zM402.8 329.16H415.1v1.51H402.8zM407.5 330.78H420.0v1.51H407.5zM405.4 332.40H418.0v1.51H405.4zM409.3 334.02H418.7v1.51H409.3zM418.7 334.02H448.5v1.51H418.7zM411.2 335.64H420.1v1.51H411.2zM420.1 335.64H459.9v1.51H420.1zM409.3 337.26H425.8v1.51H409.3zM411.2 338.88H417.7v1.51H411.2zM411.2 340.50H428.1v1.51H411.2zM415.2 342.12H424.0v1.51H415.2zM424.0 342.12H465.4v1.51H424.0zM414.7 343.74H425.8v1.51H414.7zM425.8 343.74H468.0v1.51H425.8zM414.7 345.36H429.6v1.51H414.7zM413.5 346.98H432.0v1.51H413.5zM432.0 346.98H441.1v1.51H432.0zM418.8 348.60H430.1v1.51H418.8zM414.6 350.22H424.6v1.51H414.6zM415.7 351.84H428.7v1.51H415.7zM428.7 351.84H473.1v1.51H428.7zM420.3 353.46H434.9v1.51H420.3zM419.1 355.08H428.1v1.51H419.1zM423.1 356.70H433.0v1.51H423.1zM423.3 358.32H434.0v1.51H423.3zM434.0 358.32H462.9v1.51H434.0zM419.4 359.94H430.7v1.51H419.4zM430.7 359.94H449.4v1.51H430.7zM419.9 361.56H434.1v1.51H419.9zM421.1 363.18H438.3v1.51H421.1zM422.7 364.80H438.4v1.51H422.7zM427.0 366.42H435.9v1.51H427.0zM424.3 368.04H435.2v1.51H424.3zM435.2 368.04H457.9v1.51H435.2zM428.0 369.66H436.2v1.51H428.0zM426.2 371.28H437.0v1.51H426.2zM430.0 372.90H441.8v1.51H430.0zM441.8 372.90H473.3v1.51H441.8zM428.7 374.52H441.0v1.51H428.7zM441.0 374.52H496.2v1.51H441.0zM431.8 376.14H437.8v1.51H431.8zM437.8 376.14H475.8v1.51H437.8zM431.7 377.76H437.0v1.51H431.7zM429.9 379.38H442.6v1.51H429.9zM442.6 379.38H455.8v1.51H442.6zM428.5 381.00H435.1v1.51H428.5zM432.9 382.62H444.9v1.51H432.9zM433.8 384.24H440.4v1.51H433.8zM432.2 385.86H439.3v1.51H432.2zM439.3 385.86H496.6v1.51H439.3zM432.4 387.48H446.2v1.51H432.4zM432.5 389.10H444.7v1.51H432.5zM432.5 390.72H447.3v1.51H432.5zM435.5 392.34H441.5v1.51H435.5zM433.2 393.96H441.5v1.51H433.2zM441.5 393.96H503.9v1.51H441.5zM436.8 395.58H438.6v1.51H436.8zM435.4 397.20H447.7v1.51H435.4zM447.7 397.20H505.2v1.51H447.7zM437.9 398.82H442.0v1.51H437.9zM436.8 400.44H448.2v1.51H436.8zM448.2 400.44H486.6v1.51H448.2zM438.4 402.06H448.1v1.51H438.4zM440.8 403.68H450.2v1.51H440.8zM450.2 403.68H477.5v1.51H450.2zM437.1 405.30H445.4v1.51H437.1zM436.9 406.92H446.9v1.51H436.9zM441.9 410.16H447.2v1.51H441.9zM442.7 411.78H452.4v1.51H442.7zM439.6 413.40H448.6v1.51H439.6zM448.6 413.40H467.6v1.51H448.6zM442.2 415.02H452.5v1.51H442.2zM439.7 416.64H452.9v1.51H439.7zM452.9 416.64H503.0v1.51H452.9zM440.6 418.26H443.4v1.51H440.6zM443.4 419.88H453.7v1.51H443.4zM441.8 421.50H457.6v1.51H441.8zM445.7 423.12H457.2v1.51H445.7zM457.2 423.12H507.1v1.51H457.2zM446.2 424.74H461.3v1.51H446.2zM461.3 424.74H487.7v1.51H461.3zM445.8 426.36H459.5v1.51H445.8zM448.1 427.98H462.9v1.51H448.1zM446.8 429.60H462.4v1.51H446.8zM446.8 431.22H451.4v1.51H446.8zM444.8 432.84H464.1v1.51H444.8zM444.3 434.46H464.9v1.51H444.3zM444.9 437.70H451.9v1.51H444.9zM450.6 439.32H468.4v1.51H450.6zM451.4 440.94H468.0v1.51H451.4zM468.0 440.94H486.4v1.51H468.0zM446.8 442.56H457.2v1.51H446.8zM449.4 444.18H457.3v1.51H449.4z"/>
<path fill="#8585cc" d="M414.5 324.30H456.4v1.51H414.5zM418.4 327.54H454.6v1.51H418.4zM415.1 329.16H448.9v1.51H415.1zM428.1 340.50H467.2v1.51H428.1zM429.6 345.36H469.3v1.51H429.6zM430.1 348.60H437.6v1.51H430.1zM424.6 350.22H438.6v1.51H424.6zM405.9 361.56H419.9v1.51H405.9zM434.1 361.56H460.5v1.51H434.1zM409.7 369.66H428.0v1.51H409.7zM437.0 371.28H450.2v1.51H437.0zM410.0 372.90H430.0v1.51H410.0zM442.0 398.82H480.4v1.51H442.0zM423.7 402.06H438.4v1.51H423.7zM445.4 405.30H448.5v1.51H445.4zM446.9 406.92H471.1v1.51H446.9zM447.2 410.16H449.4v1.51H447.2zM425.8 421.50H441.8v1.51H425.8zM457.6 421.50H466.6v1.51H457.6zM437.6 424.74H446.2v1.51H437.6zM438.8 427.98H448.1v1.51H438.8zM430.5 432.84H444.8v1.51H430.5zM464.9 434.46H488.1v1.51H464.9z"/>
<path fill="#b4b4e4" d="M439.8 319.44H451.2v1.51H439.8zM418.1 321.06H450.0v1.51H418.1zM411.9 322.68H439.4v1.51H411.9zM454.2 325.92H459.0v1.51H454.2zM454.6 327.54H459.2v1.51H454.6zM418.0 332.40H450.3v1.51H418.0zM450.3 332.40H468.1v1.51H450.3zM417.7 338.88H451.7v1.51H417.7zM451.7 338.88H471.0v1.51H451.7zM437.6 348.60H456.2v1.51H437.6zM473.1 351.84H481.3v1.51H473.1zM428.1 355.08H455.4v1.51H428.1zM455.4 355.08H471.2v1.51H455.4zM433.0 356.70H478.7v1.51H433.0zM478.7 356.70H488.8v1.51H478.7zM449.4 359.94H457.6v1.51H449.4zM460.5 361.56H470.2v1.51H460.5zM450.0 363.18H466.8v1.51H450.0zM436.2 369.66H463.2v1.51H436.2zM463.2 369.66H466.7v1.51H463.2zM450.2 371.28H455.5v1.51H450.2zM475.8 376.14H483.1v1.51H475.8zM437.0 377.76H488.9v1.51H437.0zM435.1 381.00H460.6v1.51H435.1zM444.9 382.62H477.5v1.51H444.9zM477.5 382.62H485.4v1.51H477.5zM447.3 390.72H487.6v1.51H447.3zM487.6 390.72H495.7v1.51H487.6zM420.9 392.34H435.5v1.51H420.9zM441.5 392.34H480.6v1.51H441.5zM480.6 392.34H486.2v1.51H480.6zM486.6 400.44H503.5v1.51H486.6zM477.5 403.68H493.3v1.51H477.5zM427.5 408.54H437.4v1.51H427.5zM452.4 411.78H487.7v1.51H452.4zM487.7 411.78H496.9v1.51H487.7zM467.6 413.40H482.8v1.51H467.6zM452.5 415.02H499.0v1.51H452.5zM453.7 419.88H467.6v1.51H453.7zM467.6 419.88H476.9v1.51H467.6zM487.7 424.74H500.8v1.51H487.7zM459.5 426.36H509.7v1.51H459.5zM509.7 426.36H512.9v1.51H509.7zM462.4 429.60H511.8v1.51H462.4zM464.1 432.84H500.0v1.51H464.1zM488.1 434.46H503.8v1.51H488.1zM430.9 436.08H443.0v1.51H430.9zM443.6 439.32H450.6v1.51H443.6z"/>
<path fill="#6a6ab8" d="M417.4 319.44H439.8v1.51H417.4zM417.5 325.92H454.2v1.51H417.5zM420.0 330.78H456.0v1.51H420.0zM425.8 337.26H451.8v1.51H425.8zM434.9 353.46H474.7v1.51H434.9zM438.3 363.18H450.0v1.51H438.3zM438.4 364.80H468.2v1.51H438.4zM435.9 366.42H481.9v1.51H435.9zM446.2 387.48H479.3v1.51H446.2zM423.7 390.72H432.5v1.51H423.7zM448.1 402.06H472.4v1.51H448.1zM424.6 403.68H440.8v1.51H424.6zM429.8 411.78H442.7v1.51H429.8zM433.2 413.40H439.6v1.51H433.2zM462.9 427.98H506.0v1.51H462.9zM468.4 439.32H513.2v1.51H468.4zM434.7 444.18H449.4v1.51H434.7zM440.6 445.80H438.8v1.51H440.6z"/>
<line x1="434.6" y1="316" x2="434.6" y2="448" stroke="#3a2a6a" stroke-width="0.9"/>
<line x1="352.5" y1="457.6" x2="435" y2="457.6" stroke="#f4a52a" stroke-width="1.3"/>
<line x1="435" y1="457.6" x2="519.6" y2="457.6" stroke="#2c44a4" stroke-width="1.3"/>
<path d="M353.5 454.3V460.90000000000003M352.6 455.0L353.5 457.6L352.6 460.20000000000005M361.4 454.3V460.90000000000003M360.5 455.0L361.4 457.6L360.5 460.20000000000005M369.3 454.3V460.90000000000003M368.4 455.0L369.3 457.6L368.4 460.20000000000005M377.2 454.3V460.90000000000003M376.3 455.0L377.2 457.6L376.3 460.20000000000005M385.1 454.3V460.90000000000003M384.2 455.0L385.1 457.6L384.2 460.20000000000005M393.0 454.3V460.90000000000003M392.1 455.0L393.0 457.6L392.1 460.20000000000005M400.9 454.3V460.90000000000003M400.0 455.0L400.9 457.6L400.0 460.20000000000005M408.8 454.3V460.90000000000003M407.9 455.0L408.8 457.6L407.9 460.20000000000005M416.7 454.3V460.90000000000003M415.8 455.0L416.7 457.6L415.8 460.20000000000005M424.6 454.3V460.90000000000003M423.7 455.0L424.6 457.6L423.7 460.20000000000005M432.5 454.3V460.90000000000003M431.6 455.0L432.5 457.6L431.6 460.20000000000005" stroke="#f4a52a" stroke-width="0.9" fill="none"/>
<path d="M440.4 454.3V460.90000000000003M441.3 455.0L440.4 457.6L441.3 460.20000000000005M448.3 454.3V460.90000000000003M449.2 455.0L448.3 457.6L449.2 460.20000000000005M456.2 454.3V460.90000000000003M457.1 455.0L456.2 457.6L457.1 460.20000000000005M464.1 454.3V460.90000000000003M465.0 455.0L464.1 457.6L465.0 460.20000000000005M472.0 454.3V460.90000000000003M472.9 455.0L472.0 457.6L472.9 460.20000000000005M479.9 454.3V460.90000000000003M480.8 455.0L479.9 457.6L480.8 460.20000000000005M487.8 454.3V460.90000000000003M488.7 455.0L487.8 457.6L488.7 460.20000000000005M495.7 454.3V460.90000000000003M496.6 455.0L495.7 457.6L496.6 460.20000000000005M503.6 454.3V460.90000000000003M504.5 455.0L503.6 457.6L504.5 460.20000000000005M511.5 454.3V460.90000000000003M512.4 455.0L511.5 457.6L512.4 460.20000000000005M519.4 454.3V460.90000000000003M520.3 455.0L519.4 457.6L520.3 460.20000000000005" stroke="#2c44a4" stroke-width="0.9" fill="none"/>
<text x="412.4" y="473.8" font-size="10.7" fill="#222" stroke="#222" stroke-width="0.18">Breakpoint</text>
<circle cx="369.4" cy="435.2" r="10.4" fill="#fff" stroke="#7c86c4" stroke-width="0.9"/>
<text x="369.4" y="439.59999999999997" font-size="12.5" fill="#222" stroke="#222" stroke-width="0.18" text-anchor="middle">3</text>
<text x="6.5" y="502.3" font-size="11.5" fill="#111" stroke="#111" stroke-width="0.18" font-weight="bold">D</text>
<rect x="32.7" y="496.4" width="256.5" height="181" fill="#030305"/>
<rect x="322.8" y="496.6" width="181" height="181" fill="#030305"/>
<defs><filter id="bl" x="-30%" y="-30%" width="160%" height="160%"><feGaussianBlur stdDeviation="0.85"/></filter><filter id="bl2" x="-50%" y="-50%" width="200%" height="200%"><feGaussianBlur stdDeviation="2.5"/></filter></defs>
<g filter="url(#bl)" opacity="0.95">
<ellipse cx="393" cy="512" rx="10" ry="7" fill="#3a1a10" filter="url(#bl2)"/>
<g transform="rotate(0 91 505.5)"><rect x="85.8" y="503.1" width="10.5" height="4.8" rx="2.4" fill="#4044c6"/><rect x="87.0" y="504.4" width="8.0" height="2.16" rx="1.08" fill="#6a6ce0" opacity="0.7"/></g>
<g transform="rotate(55 68.75 523.75)"><rect x="62.0" y="521.4" width="13.5" height="4.8" rx="2.4" fill="#4044c6"/><rect x="63.2" y="522.7" width="11.0" height="2.16" rx="1.08" fill="#6a6ce0" opacity="0.7"/></g>
<g transform="rotate(30 73.75 535.5)"><rect x="65.5" y="533.1" width="16.5" height="4.8" rx="2.4" fill="#4044c6"/><rect x="66.8" y="534.4" width="14.0" height="2.16" rx="1.08" fill="#6a6ce0" opacity="0.7"/></g>
<g transform="rotate(75 91 536)"><rect x="83.8" y="533.6" width="14.5" height="4.8" rx="2.4" fill="#4044c6"/><rect x="85.0" y="534.9" width="12.0" height="2.16" rx="1.08" fill="#6a6ce0" opacity="0.7"/></g>
<g transform="rotate(-30 55 548.75)"><rect x="49.2" y="546.4" width="11.5" height="4.8" rx="2.4" fill="#4044c6"/><rect x="50.5" y="547.7" width="9.0" height="2.16" rx="1.08" fill="#6a6ce0" opacity="0.7"/></g>
<g transform="rotate(75 106 550)"><rect x="99.2" y="547.6" width="13.5" height="4.8" rx="2.4" fill="#4044c6"/><rect x="100.5" y="548.9" width="11.0" height="2.16" rx="1.08" fill="#6a6ce0" opacity="0.7"/></g>
<g transform="rotate(-20 121 555.5)"><rect x="116.8" y="553.1" width="8.5" height="4.8" rx="2.4" fill="#4044c6"/><rect x="118.0" y="554.4" width="6.0" height="2.16" rx="1.08" fill="#6a6ce0" opacity="0.7"/></g>
<g transform="rotate(0 56 580)"><rect x="51.8" y="577.6" width="8.5" height="4.8" rx="2.4" fill="#4044c6"/><rect x="53.0" y="578.9" width="6.0" height="2.16" rx="1.08" fill="#6a6ce0" opacity="0.7"/></g>
<g transform="rotate(-30 77.5 583.75)"><rect x="72.8" y="581.4" width="9.5" height="4.8" rx="2.4" fill="#4044c6"/><rect x="74.0" y="582.7" width="7.0" height="2.16" rx="1.08" fill="#6a6ce0" opacity="0.7"/></g>
<g transform="rotate(80 91 585)"><rect x="85.8" y="582.6" width="10.5" height="4.8" rx="2.4" fill="#4044c6"/><rect x="87.0" y="583.9" width="8.0" height="2.16" rx="1.08" fill="#6a6ce0" opacity="0.7"/></g>
<g transform="rotate(-20 145 581)"><rect x="139.8" y="578.6" width="10.5" height="4.8" rx="2.4" fill="#4044c6"/><rect x="141.0" y="579.9" width="8.0" height="2.16" rx="1.08" fill="#6a6ce0" opacity="0.7"/></g>
<g transform="rotate(30 132.5 527.5)"><rect x="129.2" y="525.1" width="6.5" height="4.8" rx="2.4" fill="#4044c6"/><rect x="130.5" y="526.4" width="4.0" height="2.16" rx="1.08" fill="#6a6ce0" opacity="0.7"/></g>
<g transform="rotate(10 146 526)"><rect x="142.2" y="523.6" width="7.5" height="4.8" rx="2.4" fill="#4044c6"/><rect x="143.5" y="524.9" width="5.0" height="2.16" rx="1.08" fill="#6a6ce0" opacity="0.7"/></g>
<g transform="rotate(40 159.4 512.5)"><rect x="153.7" y="510.1" width="11.5" height="4.8" rx="2.4" fill="#4044c6"/><rect x="154.9" y="511.4" width="9.0" height="2.16" rx="1.08" fill="#6a6ce0" opacity="0.7"/></g>
<g transform="rotate(55 214.6 534.8)"><rect x="206.8" y="532.4" width="15.5" height="4.8" rx="2.4" fill="#4044c6"/><rect x="208.1" y="533.7" width="13.0" height="2.16" rx="1.08" fill="#6a6ce0" opacity="0.7"/></g>
<g transform="rotate(90 177 566)"><rect x="171.2" y="563.6" width="11.5" height="4.8" rx="2.4" fill="#4044c6"/><rect x="172.5" y="564.9" width="9.0" height="2.16" rx="1.08" fill="#6a6ce0" opacity="0.7"/></g>
<g transform="rotate(0 194.4 571.7)"><rect x="190.7" y="569.3" width="7.5" height="4.8" rx="2.4" fill="#4044c6"/><rect x="191.9" y="570.6" width="5.0" height="2.16" rx="1.08" fill="#6a6ce0" opacity="0.7"/></g>
<g transform="rotate(-5 179.6 583.8)"><rect x="174.3" y="581.4" width="10.5" height="4.8" rx="2.4" fill="#4044c6"/><rect x="175.6" y="582.7" width="8.0" height="2.16" rx="1.08" fill="#6a6ce0" opacity="0.7"/></g>
<g transform="rotate(85 273.9 582.5)"><rect x="267.6" y="580.1" width="12.5" height="4.8" rx="2.4" fill="#4044c6"/><rect x="268.9" y="581.4" width="10.0" height="2.16" rx="1.08" fill="#6a6ce0" opacity="0.7"/></g>
<g transform="rotate(-10 52.5 591)"><rect x="47.8" y="588.6" width="9.5" height="4.8" rx="2.4" fill="#4044c6"/><rect x="49.0" y="589.9" width="7.0" height="2.16" rx="1.08" fill="#6a6ce0" opacity="0.7"/></g>
<g transform="rotate(85 60 604)"><rect x="54.2" y="601.6" width="11.5" height="4.8" rx="2.4" fill="#4044c6"/><rect x="55.5" y="602.9" width="9.0" height="2.16" rx="1.08" fill="#6a6ce0" opacity="0.7"/></g>
<g transform="rotate(-30 81 599)"><rect x="76.8" y="596.6" width="8.5" height="4.8" rx="2.4" fill="#4044c6"/><rect x="78.0" y="597.9" width="6.0" height="2.16" rx="1.08" fill="#6a6ce0" opacity="0.7"/></g>
<g transform="rotate(-40 71 615)"><rect x="64.2" y="612.6" width="13.5" height="4.8" rx="2.4" fill="#4044c6"/><rect x="65.5" y="613.9" width="11.0" height="2.16" rx="1.08" fill="#6a6ce0" opacity="0.7"/></g>
<g transform="rotate(-5 114 610)"><rect x="107.8" y="607.6" width="12.5" height="4.8" rx="2.4" fill="#4044c6"/><rect x="109.0" y="608.9" width="10.0" height="2.16" rx="1.08" fill="#6a6ce0" opacity="0.7"/></g>
<g transform="rotate(70 152.5 601)"><rect x="146.8" y="598.6" width="11.5" height="4.8" rx="2.4" fill="#4044c6"/><rect x="148.0" y="599.9" width="9.0" height="2.16" rx="1.08" fill="#6a6ce0" opacity="0.7"/></g>
<g transform="rotate(20 64 632.5)"><rect x="60.8" y="630.1" width="6.5" height="4.8" rx="2.4" fill="#4044c6"/><rect x="62.0" y="631.4" width="4.0" height="2.16" rx="1.08" fill="#6a6ce0" opacity="0.7"/></g>
<g transform="rotate(60 120 627.5)"><rect x="113.8" y="625.1" width="12.5" height="4.8" rx="2.4" fill="#4044c6"/><rect x="115.0" y="626.4" width="10.0" height="2.16" rx="1.08" fill="#6a6ce0" opacity="0.7"/></g>
<g transform="rotate(-15 106 636)"><rect x="99.2" y="633.6" width="13.5" height="4.8" rx="2.4" fill="#4044c6"/><rect x="100.5" y="634.9" width="11.0" height="2.16" rx="1.08" fill="#6a6ce0" opacity="0.7"/></g>
<g transform="rotate(-20 104 645)"><rect x="99.2" y="642.6" width="9.5" height="4.8" rx="2.4" fill="#4044c6"/><rect x="100.5" y="643.9" width="7.0" height="2.16" rx="1.08" fill="#6a6ce0" opacity="0.7"/></g>
<g transform="rotate(0 92.5 652.5)"><rect x="89.2" y="650.1" width="6.5" height="4.8" rx="2.4" fill="#4044c6"/><rect x="90.5" y="651.4" width="4.0" height="2.16" rx="1.08" fill="#6a6ce0" opacity="0.7"/></g>
<g transform="rotate(-60 105 655)"><rect x="100.8" y="652.6" width="8.5" height="4.8" rx="2.4" fill="#4044c6"/><rect x="102.0" y="653.9" width="6.0" height="2.16" rx="1.08" fill="#6a6ce0" opacity="0.7"/></g>
<g transform="rotate(-70 139 630)"><rect x="133.2" y="627.6" width="11.5" height="4.8" rx="2.4" fill="#4044c6"/><rect x="134.5" y="628.9" width="9.0" height="2.16" rx="1.08" fill="#6a6ce0" opacity="0.7"/></g>
<g transform="rotate(80 144 641)"><rect x="138.8" y="638.6" width="10.5" height="4.8" rx="2.4" fill="#4044c6"/><rect x="140.0" y="639.9" width="8.0" height="2.16" rx="1.08" fill="#6a6ce0" opacity="0.7"/></g>
<g transform="rotate(20 129 647.5)"><rect x="123.8" y="645.1" width="10.5" height="4.8" rx="2.4" fill="#4044c6"/><rect x="125.0" y="646.4" width="8.0" height="2.16" rx="1.08" fill="#6a6ce0" opacity="0.7"/></g>
<g transform="rotate(0 121 651)"><rect x="118.2" y="648.6" width="5.5" height="4.8" rx="2.4" fill="#4044c6"/><rect x="119.5" y="649.9" width="3.0" height="2.16" rx="1.08" fill="#6a6ce0" opacity="0.7"/></g>
<g transform="rotate(-45 140 659)"><rect x="133.8" y="656.6" width="12.5" height="4.8" rx="2.4" fill="#4044c6"/><rect x="135.0" y="657.9" width="10.0" height="2.16" rx="1.08" fill="#6a6ce0" opacity="0.7"/></g>
<g transform="rotate(-60 151 652.5)"><rect x="145.2" y="650.1" width="11.5" height="4.8" rx="2.4" fill="#4044c6"/><rect x="146.5" y="651.4" width="9.0" height="2.16" rx="1.08" fill="#6a6ce0" opacity="0.7"/></g>
<g transform="rotate(30 156 661)"><rect x="152.8" y="658.6" width="6.5" height="4.8" rx="2.4" fill="#4044c6"/><rect x="154.0" y="659.9" width="4.0" height="2.16" rx="1.08" fill="#6a6ce0" opacity="0.7"/></g>
<g transform="rotate(10 246 598)"><rect x="238.2" y="595.6" width="15.5" height="4.8" rx="2.4" fill="#4044c6"/><rect x="239.5" y="596.9" width="13.0" height="2.16" rx="1.08" fill="#6a6ce0" opacity="0.7"/></g>
<g transform="rotate(-70 247 611)"><rect x="241.2" y="608.6" width="11.5" height="4.8" rx="2.4" fill="#4044c6"/><rect x="242.5" y="609.9" width="9.0" height="2.16" rx="1.08" fill="#6a6ce0" opacity="0.7"/></g>
<g transform="rotate(85 182 614)"><rect x="175.2" y="611.6" width="13.5" height="4.8" rx="2.4" fill="#4044c6"/><rect x="176.5" y="612.9" width="11.0" height="2.16" rx="1.08" fill="#6a6ce0" opacity="0.7"/></g>
<g transform="rotate(-30 172 620)"><rect x="166.2" y="617.6" width="11.5" height="4.8" rx="2.4" fill="#4044c6"/><rect x="167.5" y="618.9" width="9.0" height="2.16" rx="1.08" fill="#6a6ce0" opacity="0.7"/></g>
<g transform="rotate(85 216 616)"><rect x="210.2" y="613.6" width="11.5" height="4.8" rx="2.4" fill="#4044c6"/><rect x="211.5" y="614.9" width="9.0" height="2.16" rx="1.08" fill="#6a6ce0" opacity="0.7"/></g>
<g transform="rotate(0 226 615)"><rect x="222.8" y="612.6" width="6.5" height="4.8" rx="2.4" fill="#4044c6"/><rect x="224.0" y="613.9" width="4.0" height="2.16" rx="1.08" fill="#6a6ce0" opacity="0.7"/></g>
<g transform="rotate(85 221 638.4)"><rect x="215.8" y="636.0" width="10.5" height="4.8" rx="2.4" fill="#4044c6"/><rect x="217.0" y="637.3" width="8.0" height="2.16" rx="1.08" fill="#6a6ce0" opacity="0.7"/></g>
<g transform="rotate(20 244.6 635.8)"><rect x="241.3" y="633.4" width="6.5" height="4.8" rx="2.4" fill="#4044c6"/><rect x="242.6" y="634.7" width="4.0" height="2.16" rx="1.08" fill="#6a6ce0" opacity="0.7"/></g>
<g transform="rotate(0 166.7 637)"><rect x="163.4" y="634.6" width="6.5" height="4.8" rx="2.4" fill="#4044c6"/><rect x="164.7" y="635.9" width="4.0" height="2.16" rx="1.08" fill="#6a6ce0" opacity="0.7"/></g>
<g transform="rotate(50 170.6 646)"><rect x="166.3" y="643.6" width="8.5" height="4.8" rx="2.4" fill="#4044c6"/><rect x="167.6" y="644.9" width="6.0" height="2.16" rx="1.08" fill="#6a6ce0" opacity="0.7"/></g>
<g transform="rotate(60 174.5 656.6)"><rect x="169.8" y="654.2" width="9.5" height="4.8" rx="2.4" fill="#4044c6"/><rect x="171.0" y="655.5" width="7.0" height="2.16" rx="1.08" fill="#6a6ce0" opacity="0.7"/></g>
<g transform="rotate(-30 201.8 648.8)"><rect x="196.1" y="646.4" width="11.5" height="4.8" rx="2.4" fill="#4044c6"/><rect x="197.3" y="647.7" width="9.0" height="2.16" rx="1.08" fill="#6a6ce0" opacity="0.7"/></g>
<g transform="rotate(50 209.5 645)"><rect x="205.2" y="642.6" width="8.5" height="4.8" rx="2.4" fill="#4044c6"/><rect x="206.5" y="643.9" width="6.0" height="2.16" rx="1.08" fill="#6a6ce0" opacity="0.7"/></g>
<g transform="rotate(-30 197.9 663)"><rect x="192.2" y="660.6" width="11.5" height="4.8" rx="2.4" fill="#4044c6"/><rect x="193.4" y="661.9" width="9.0" height="2.16" rx="1.08" fill="#6a6ce0" opacity="0.7"/></g>
<g transform="rotate(0 210.8 659)"><rect x="207.1" y="656.6" width="7.5" height="4.8" rx="2.4" fill="#4044c6"/><rect x="208.3" y="657.9" width="5.0" height="2.16" rx="1.08" fill="#6a6ce0" opacity="0.7"/></g>
<g transform="rotate(0 160 660.5)"><rect x="156.8" y="658.1" width="6.5" height="4.8" rx="2.4" fill="#4044c6"/><rect x="158.0" y="659.4" width="4.0" height="2.16" rx="1.08" fill="#6a6ce0" opacity="0.7"/></g>
<g transform="rotate(0 240 596.3)"><rect x="235.2" y="593.9" width="9.5" height="4.8" rx="2.4" fill="#4044c6"/><rect x="236.5" y="595.2" width="7.0" height="2.16" rx="1.08" fill="#6a6ce0" opacity="0.7"/></g>
<g transform="rotate(0 196.4 570.9)"><rect x="192.7" y="568.5" width="7.5" height="4.8" rx="2.4" fill="#4044c6"/><rect x="193.9" y="569.8" width="5.0" height="2.16" rx="1.08" fill="#6a6ce0" opacity="0.7"/></g>
<g transform="rotate(80 212.3 600)"><rect x="206.6" y="597.6" width="11.5" height="4.8" rx="2.4" fill="#4044c6"/><rect x="207.8" y="598.9" width="9.0" height="2.16" rx="1.08" fill="#6a6ce0" opacity="0.7"/></g>
<g transform="rotate(0 159 565)"><rect x="156.2" y="562.6" width="5.5" height="4.8" rx="2.4" fill="#4044c6"/><rect x="157.5" y="563.9" width="3.0" height="2.16" rx="1.08" fill="#6a6ce0" opacity="0.7"/></g>
<g transform="rotate(0 186 540)"><rect x="183.2" y="537.6" width="5.5" height="4.8" rx="2.4" fill="#4044c6"/><rect x="184.5" y="538.9" width="3.0" height="2.16" rx="1.08" fill="#6a6ce0" opacity="0.7"/></g>
<g transform="rotate(0 254 556)"><rect x="251.2" y="553.6" width="5.5" height="4.8" rx="2.4" fill="#4044c6"/><rect x="252.5" y="554.9" width="3.0" height="2.16" rx="1.08" fill="#6a6ce0" opacity="0.7"/></g>
<g transform="rotate(30 265 640)"><rect x="262.2" y="637.6" width="5.5" height="4.8" rx="2.4" fill="#4044c6"/><rect x="263.5" y="638.9" width="3.0" height="2.16" rx="1.08" fill="#6a6ce0" opacity="0.7"/></g>
<g transform="rotate(0 279 610)"><rect x="276.8" y="607.6" width="4.5" height="4.8" rx="2.4" fill="#4044c6"/><rect x="278.0" y="608.9" width="2.0" height="2.16" rx="1.08" fill="#6a6ce0" opacity="0.7"/></g>
<g transform="rotate(-40 397 511.3)"><rect x="390.2" y="508.9" width="13.5" height="4.8" rx="2.4" fill="#4044c6"/><rect x="391.5" y="510.2" width="11.0" height="2.16" rx="1.08" fill="#6a6ce0" opacity="0.7"/></g>
<g transform="rotate(15 365 519)"><rect x="359.2" y="516.6" width="11.5" height="4.8" rx="2.4" fill="#4044c6"/><rect x="360.5" y="517.9" width="9.0" height="2.16" rx="1.08" fill="#6a6ce0" opacity="0.7"/></g>
<g transform="rotate(80 355.6 533.5)"><rect x="350.4" y="531.1" width="10.5" height="4.8" rx="2.4" fill="#4044c6"/><rect x="351.6" y="532.4" width="8.0" height="2.16" rx="1.08" fill="#6a6ce0" opacity="0.7"/></g>
<g transform="rotate(0 394 534.4)"><rect x="388.2" y="532.0" width="11.5" height="4.8" rx="2.4" fill="#4044c6"/><rect x="389.5" y="533.3" width="9.0" height="2.16" rx="1.08" fill="#6a6ce0" opacity="0.7"/></g>
<g transform="rotate(40 392 542)"><rect x="386.2" y="539.6" width="11.5" height="4.8" rx="2.4" fill="#4044c6"/><rect x="387.5" y="540.9" width="9.0" height="2.16" rx="1.08" fill="#6a6ce0" opacity="0.7"/></g>
<g transform="rotate(-70 365 544)"><rect x="357.2" y="541.6" width="15.5" height="4.8" rx="2.4" fill="#4044c6"/><rect x="358.5" y="542.9" width="13.0" height="2.16" rx="1.08" fill="#6a6ce0" opacity="0.7"/></g>
<g transform="rotate(90 336.3 548.8)"><rect x="331.1" y="546.4" width="10.5" height="4.8" rx="2.4" fill="#4044c6"/><rect x="332.3" y="547.7" width="8.0" height="2.16" rx="1.08" fill="#6a6ce0" opacity="0.7"/></g>
<g transform="rotate(20 359.4 550.8)"><rect x="355.1" y="548.4" width="8.5" height="4.8" rx="2.4" fill="#4044c6"/><rect x="356.4" y="549.7" width="6.0" height="2.16" rx="1.08" fill="#6a6ce0" opacity="0.7"/></g>
<g transform="rotate(-45 382.5 550.8)"><rect x="376.8" y="548.4" width="11.5" height="4.8" rx="2.4" fill="#4044c6"/><rect x="378.0" y="549.7" width="9.0" height="2.16" rx="1.08" fill="#6a6ce0" opacity="0.7"/></g>
<g transform="rotate(-80 353.6 561.3)"><rect x="347.4" y="558.9" width="12.5" height="4.8" rx="2.4" fill="#4044c6"/><rect x="348.6" y="560.2" width="10.0" height="2.16" rx="1.08" fill="#6a6ce0" opacity="0.7"/></g>
<g transform="rotate(0 413 562.3)"><rect x="409.2" y="559.9" width="7.5" height="4.8" rx="2.4" fill="#4044c6"/><rect x="410.5" y="561.2" width="5.0" height="2.16" rx="1.08" fill="#6a6ce0" opacity="0.7"/></g>
<g transform="rotate(30 363.3 572.9)"><rect x="358.1" y="570.5" width="10.5" height="4.8" rx="2.4" fill="#4044c6"/><rect x="359.3" y="571.8" width="8.0" height="2.16" rx="1.08" fill="#6a6ce0" opacity="0.7"/></g>
<g transform="rotate(60 378.7 569)"><rect x="374.4" y="566.6" width="8.5" height="4.8" rx="2.4" fill="#4044c6"/><rect x="375.7" y="567.9" width="6.0" height="2.16" rx="1.08" fill="#6a6ce0" opacity="0.7"/></g>
<g transform="rotate(0 387.3 572)"><rect x="383.1" y="569.6" width="8.5" height="4.8" rx="2.4" fill="#4044c6"/><rect x="384.3" y="570.9" width="6.0" height="2.16" rx="1.08" fill="#6a6ce0" opacity="0.7"/></g>
<g transform="rotate(-70 372 577.7)"><rect x="367.2" y="575.3" width="9.5" height="4.8" rx="2.4" fill="#4044c6"/><rect x="368.5" y="576.6" width="7.0" height="2.16" rx="1.08" fill="#6a6ce0" opacity="0.7"/></g>
<g transform="rotate(60 383.5 579.6)"><rect x="378.8" y="577.2" width="9.5" height="4.8" rx="2.4" fill="#4044c6"/><rect x="380.0" y="578.5" width="7.0" height="2.16" rx="1.08" fill="#6a6ce0" opacity="0.7"/></g>
<g transform="rotate(80 353.6 580.6)"><rect x="349.4" y="578.2" width="8.5" height="4.8" rx="2.4" fill="#4044c6"/><rect x="350.6" y="579.5" width="6.0" height="2.16" rx="1.08" fill="#6a6ce0" opacity="0.7"/></g>
<g transform="rotate(80 342 584.4)"><rect x="337.2" y="582.0" width="9.5" height="4.8" rx="2.4" fill="#4044c6"/><rect x="338.5" y="583.3" width="7.0" height="2.16" rx="1.08" fill="#6a6ce0" opacity="0.7"/></g>
<g transform="rotate(0 412.3 576.7)"><rect x="408.6" y="574.3" width="7.5" height="4.8" rx="2.4" fill="#4044c6"/><rect x="409.8" y="575.6" width="5.0" height="2.16" rx="1.08" fill="#6a6ce0" opacity="0.7"/></g>
<g transform="rotate(30 439.8 513.3)"><rect x="435.6" y="510.9" width="8.5" height="4.8" rx="2.4" fill="#4044c6"/><rect x="436.8" y="512.2" width="6.0" height="2.16" rx="1.08" fill="#6a6ce0" opacity="0.7"/></g>
<g transform="rotate(-60 425.4 522.9)"><rect x="420.6" y="520.5" width="9.5" height="4.8" rx="2.4" fill="#4044c6"/><rect x="421.9" y="521.8" width="7.0" height="2.16" rx="1.08" fill="#6a6ce0" opacity="0.7"/></g>
<g transform="rotate(0 423.5 541)"><rect x="418.8" y="538.6" width="9.5" height="4.8" rx="2.4" fill="#4044c6"/><rect x="420.0" y="539.9" width="7.0" height="2.16" rx="1.08" fill="#6a6ce0" opacity="0.7"/></g>
<g transform="rotate(-20 455 532.5)"><rect x="450.2" y="530.1" width="9.5" height="4.8" rx="2.4" fill="#4044c6"/><rect x="451.5" y="531.4" width="7.0" height="2.16" rx="1.08" fill="#6a6ce0" opacity="0.7"/></g>
<g transform="rotate(20 454 540)"><rect x="449.2" y="537.6" width="9.5" height="4.8" rx="2.4" fill="#4044c6"/><rect x="450.5" y="538.9" width="7.0" height="2.16" rx="1.08" fill="#6a6ce0" opacity="0.7"/></g>
<g transform="rotate(0 414 562)"><rect x="410.8" y="559.6" width="6.5" height="4.8" rx="2.4" fill="#4044c6"/><rect x="412.0" y="560.9" width="4.0" height="2.16" rx="1.08" fill="#6a6ce0" opacity="0.7"/></g>
<g transform="rotate(30 425.4 579.6)"><rect x="421.1" y="577.2" width="8.5" height="4.8" rx="2.4" fill="#4044c6"/><rect x="422.4" y="578.5" width="6.0" height="2.16" rx="1.08" fill="#6a6ce0" opacity="0.7"/></g>
<g transform="rotate(80 343 589.6)"><rect x="335.2" y="587.2" width="15.5" height="4.8" rx="2.4" fill="#4044c6"/><rect x="336.5" y="588.5" width="13.0" height="2.16" rx="1.08" fill="#6a6ce0" opacity="0.7"/></g>
<g transform="rotate(-60 340 601)"><rect x="335.8" y="598.6" width="8.5" height="4.8" rx="2.4" fill="#4044c6"/><rect x="337.0" y="599.9" width="6.0" height="2.16" rx="1.08" fill="#6a6ce0" opacity="0.7"/></g>
<g transform="rotate(0 353.6 582)"><rect x="350.9" y="579.6" width="5.5" height="4.8" rx="2.4" fill="#4044c6"/><rect x="352.1" y="580.9" width="3.0" height="2.16" rx="1.08" fill="#6a6ce0" opacity="0.7"/></g>
<g transform="rotate(0 368 586.7)"><rect x="364.2" y="584.3" width="7.5" height="4.8" rx="2.4" fill="#4044c6"/><rect x="365.5" y="585.6" width="5.0" height="2.16" rx="1.08" fill="#6a6ce0" opacity="0.7"/></g>
<g transform="rotate(60 377.7 584.8)"><rect x="373.9" y="582.4" width="7.5" height="4.8" rx="2.4" fill="#4044c6"/><rect x="375.2" y="583.7" width="5.0" height="2.16" rx="1.08" fill="#6a6ce0" opacity="0.7"/></g>
<g transform="rotate(60 383.5 583)"><rect x="379.2" y="580.6" width="8.5" height="4.8" rx="2.4" fill="#4044c6"/><rect x="380.5" y="581.9" width="6.0" height="2.16" rx="1.08" fill="#6a6ce0" opacity="0.7"/></g>
<g transform="rotate(-30 397 588.7)"><rect x="393.2" y="586.3" width="7.5" height="4.8" rx="2.4" fill="#4044c6"/><rect x="394.5" y="587.6" width="5.0" height="2.16" rx="1.08" fill="#6a6ce0" opacity="0.7"/></g>
<g transform="rotate(0 408.5 587.7)"><rect x="404.8" y="585.3" width="7.5" height="4.8" rx="2.4" fill="#4044c6"/><rect x="406.0" y="586.6" width="5.0" height="2.16" rx="1.08" fill="#6a6ce0" opacity="0.7"/></g>
<g transform="rotate(20 386.3 604)"><rect x="381.1" y="601.6" width="10.5" height="4.8" rx="2.4" fill="#4044c6"/><rect x="382.3" y="602.9" width="8.0" height="2.16" rx="1.08" fill="#6a6ce0" opacity="0.7"/></g>
<g transform="rotate(0 396 608.8)"><rect x="391.8" y="606.4" width="8.5" height="4.8" rx="2.4" fill="#4044c6"/><rect x="393.0" y="607.7" width="6.0" height="2.16" rx="1.08" fill="#6a6ce0" opacity="0.7"/></g>
<g transform="rotate(0 374.8 614.6)"><rect x="372.1" y="612.2" width="5.5" height="4.8" rx="2.4" fill="#4044c6"/><rect x="373.3" y="613.5" width="3.0" height="2.16" rx="1.08" fill="#6a6ce0" opacity="0.7"/></g>
<g transform="rotate(0 385.4 614.6)"><rect x="382.6" y="612.2" width="5.5" height="4.8" rx="2.4" fill="#4044c6"/><rect x="383.9" y="613.5" width="3.0" height="2.16" rx="1.08" fill="#6a6ce0" opacity="0.7"/></g>
<g transform="rotate(20 361.3 628)"><rect x="354.6" y="625.6" width="13.5" height="4.8" rx="2.4" fill="#4044c6"/><rect x="355.8" y="626.9" width="11.0" height="2.16" rx="1.08" fill="#6a6ce0" opacity="0.7"/></g>
<g transform="rotate(90 386.3 627)"><rect x="380.6" y="624.6" width="11.5" height="4.8" rx="2.4" fill="#4044c6"/><rect x="381.8" y="625.9" width="9.0" height="2.16" rx="1.08" fill="#6a6ce0" opacity="0.7"/></g>
<g transform="rotate(0 378.7 625)"><rect x="375.9" y="622.6" width="5.5" height="4.8" rx="2.4" fill="#4044c6"/><rect x="377.2" y="623.9" width="3.0" height="2.16" rx="1.08" fill="#6a6ce0" opacity="0.7"/></g>
<g transform="rotate(-45 398 629)"><rect x="393.2" y="626.6" width="9.5" height="4.8" rx="2.4" fill="#4044c6"/><rect x="394.5" y="627.9" width="7.0" height="2.16" rx="1.08" fill="#6a6ce0" opacity="0.7"/></g>
<g transform="rotate(0 352.7 632)"><rect x="349.9" y="629.6" width="5.5" height="4.8" rx="2.4" fill="#4044c6"/><rect x="351.2" y="630.9" width="3.0" height="2.16" rx="1.08" fill="#6a6ce0" opacity="0.7"/></g>
<g transform="rotate(0 377.7 636.7)"><rect x="374.9" y="634.3" width="5.5" height="4.8" rx="2.4" fill="#4044c6"/><rect x="376.2" y="635.6" width="3.0" height="2.16" rx="1.08" fill="#6a6ce0" opacity="0.7"/></g>
<g transform="rotate(0 367 641.5)"><rect x="364.2" y="639.1" width="5.5" height="4.8" rx="2.4" fill="#4044c6"/><rect x="365.5" y="640.4" width="3.0" height="2.16" rx="1.08" fill="#6a6ce0" opacity="0.7"/></g>
<g transform="rotate(0 398.8 650.5)"><rect x="393.1" y="648.1" width="11.5" height="4.8" rx="2.4" fill="#4044c6"/><rect x="394.3" y="649.4" width="9.0" height="2.16" rx="1.08" fill="#6a6ce0" opacity="0.7"/></g>
<g transform="rotate(0 397.9 656)"><rect x="392.1" y="653.6" width="11.5" height="4.8" rx="2.4" fill="#4044c6"/><rect x="393.4" y="654.9" width="9.0" height="2.16" rx="1.08" fill="#6a6ce0" opacity="0.7"/></g>
<g transform="rotate(80 414 637.7)"><rect x="408.8" y="635.3" width="10.5" height="4.8" rx="2.4" fill="#4044c6"/><rect x="410.0" y="636.6" width="8.0" height="2.16" rx="1.08" fill="#6a6ce0" opacity="0.7"/></g>
<g transform="rotate(80 415 608)"><rect x="409.8" y="605.6" width="10.5" height="4.8" rx="2.4" fill="#4044c6"/><rect x="411.0" y="606.9" width="8.0" height="2.16" rx="1.08" fill="#6a6ce0" opacity="0.7"/></g>
<g transform="rotate(-20 419 589)"><rect x="414.8" y="586.6" width="8.5" height="4.8" rx="2.4" fill="#4044c6"/><rect x="416.0" y="587.9" width="6.0" height="2.16" rx="1.08" fill="#6a6ce0" opacity="0.7"/></g>
<g transform="rotate(0 409 588)"><rect x="406.2" y="585.6" width="5.5" height="4.8" rx="2.4" fill="#4044c6"/><rect x="407.5" y="586.9" width="3.0" height="2.16" rx="1.08" fill="#6a6ce0" opacity="0.7"/></g>
<g transform="rotate(0 425 581)"><rect x="422.2" y="578.6" width="5.5" height="4.8" rx="2.4" fill="#4044c6"/><rect x="423.5" y="579.9" width="3.0" height="2.16" rx="1.08" fill="#6a6ce0" opacity="0.7"/></g>
<g transform="rotate(0 463.6 591)"><rect x="459.9" y="588.6" width="7.5" height="4.8" rx="2.4" fill="#4044c6"/><rect x="461.1" y="589.9" width="5.0" height="2.16" rx="1.08" fill="#6a6ce0" opacity="0.7"/></g>
<g transform="rotate(90 448.4 603)"><rect x="443.1" y="600.6" width="10.5" height="4.8" rx="2.4" fill="#4044c6"/><rect x="444.4" y="601.9" width="8.0" height="2.16" rx="1.08" fill="#6a6ce0" opacity="0.7"/></g>
<g transform="rotate(45 458.5 601)"><rect x="454.2" y="598.6" width="8.5" height="4.8" rx="2.4" fill="#4044c6"/><rect x="455.5" y="599.9" width="6.0" height="2.16" rx="1.08" fill="#6a6ce0" opacity="0.7"/></g>
<g transform="rotate(-45 458.5 601)"><rect x="454.2" y="598.6" width="8.5" height="4.8" rx="2.4" fill="#4044c6"/><rect x="455.5" y="599.9" width="6.0" height="2.16" rx="1.08" fill="#6a6ce0" opacity="0.7"/></g>
<g transform="rotate(-30 456.5 615.4)"><rect x="450.8" y="613.0" width="11.5" height="4.8" rx="2.4" fill="#4044c6"/><rect x="452.0" y="614.3" width="9.0" height="2.16" rx="1.08" fill="#6a6ce0" opacity="0.7"/></g>
<g transform="rotate(70 414 607)"><rect x="408.8" y="604.6" width="10.5" height="4.8" rx="2.4" fill="#4044c6"/><rect x="410.0" y="605.9" width="8.0" height="2.16" rx="1.08" fill="#6a6ce0" opacity="0.7"/></g>
<g transform="rotate(50 422 608)"><rect x="416.2" y="605.6" width="11.5" height="4.8" rx="2.4" fill="#4044c6"/><rect x="417.5" y="606.9" width="9.0" height="2.16" rx="1.08" fill="#6a6ce0" opacity="0.7"/></g>
<g transform="rotate(80 430 627.5)"><rect x="425.2" y="625.1" width="9.5" height="4.8" rx="2.4" fill="#4044c6"/><rect x="426.5" y="626.4" width="7.0" height="2.16" rx="1.08" fill="#6a6ce0" opacity="0.7"/></g>
<g transform="rotate(70 414 638.6)"><rect x="409.2" y="636.2" width="9.5" height="4.8" rx="2.4" fill="#4044c6"/><rect x="410.5" y="637.5" width="7.0" height="2.16" rx="1.08" fill="#6a6ce0" opacity="0.7"/></g>
<g transform="rotate(50 423 640.6)"><rect x="417.2" y="638.2" width="11.5" height="4.8" rx="2.4" fill="#4044c6"/><rect x="418.5" y="639.5" width="9.0" height="2.16" rx="1.08" fill="#6a6ce0" opacity="0.7"/></g>
<g transform="rotate(-20 430 652.7)"><rect x="424.2" y="650.3" width="11.5" height="4.8" rx="2.4" fill="#4044c6"/><rect x="425.5" y="651.6" width="9.0" height="2.16" rx="1.08" fill="#6a6ce0" opacity="0.7"/></g>
<g transform="rotate(0 339 586)"><rect x="336.2" y="583.6" width="5.5" height="4.8" rx="2.4" fill="#4044c6"/><rect x="337.5" y="584.9" width="3.0" height="2.16" rx="1.08" fill="#6a6ce0" opacity="0.7"/></g>
<g transform="rotate(0 351 620)"><rect x="348.8" y="617.6" width="4.5" height="4.8" rx="2.4" fill="#4044c6"/><rect x="350.0" y="618.9" width="2.0" height="2.16" rx="1.08" fill="#6a6ce0" opacity="0.7"/></g>
<g transform="rotate(0 402 600)"><rect x="399.2" y="597.6" width="5.5" height="4.8" rx="2.4" fill="#4044c6"/><rect x="400.5" y="598.9" width="3.0" height="2.16" rx="1.08" fill="#6a6ce0" opacity="0.7"/></g>
<path d="M221 567.5 L214.2 589.6 L220 605" stroke="#4a48d8" stroke-width="3.6" fill="none" stroke-linecap="round"/>
<path d="M458 545 L481 567" stroke="#8a80e0" stroke-width="2.8" fill="none" stroke-linecap="round"/>
</g>
<g filter="url(#bl)">
<circle cx="220.5" cy="570" r="1.1" fill="#f0d0f0"/>
<circle cx="219" cy="575" r="1.1" fill="#ffffff"/>
<circle cx="217.5" cy="580" r="1.1" fill="#e8b0e0"/>
<circle cx="216" cy="585" r="1.1" fill="#ffffff"/>
<circle cx="214.5" cy="590" r="1.1" fill="#e89ad0"/>
<circle cx="216" cy="594" r="1.1" fill="#ffffff"/>
<circle cx="218" cy="598" r="1.1" fill="#f0d0f0"/>
<circle cx="219.5" cy="602" r="1.1" fill="#ffffff"/>
<circle cx="227" cy="565" r="1.1" fill="#e0e0ff"/>
<circle cx="230" cy="567" r="1.1" fill="#ffffff"/>
<circle cx="146" cy="526" r="1.1" fill="#ffffff"/>
<circle cx="148" cy="580" r="1.1" fill="#f0c0e8"/>
<circle cx="151.3" cy="578.5" r="1.1" fill="#ffe0f0"/>
<circle cx="132.5" cy="527.5" r="1.1" fill="#e0a0c0"/>
<circle cx="116" cy="667.5" r="1.1" fill="#e8e8ff"/>
<circle cx="230" cy="630.6" r="1.1" fill="#d080c0"/>
<circle cx="460" cy="547" r="1.1" fill="#ffffff"/>
<circle cx="464" cy="551" r="1.1" fill="#f0e0ff"/>
<circle cx="468" cy="555" r="1.1" fill="#ffffff"/>
<circle cx="472" cy="559" r="1.1" fill="#f0e0ff"/>
<circle cx="476" cy="563" r="1.1" fill="#ffffff"/>
<circle cx="480" cy="566" r="1.1" fill="#ffffff"/>
<circle cx="398" cy="510" r="1.1" fill="#f8d0e8"/>
<circle cx="395" cy="513" r="1.1" fill="#ffffff"/>
<circle cx="401" cy="507" r="1.1" fill="#ffffff"/>
</g>
<text x="117.5" y="507.6" font-size="10.85" fill="#e0242e" stroke="#e0242e" stroke-width="0.18">MDM2 (Agilent SUREFISH) 12q15</text>
<text x="117.5" y="522.2" font-size="10.85" fill="#25a24a" stroke="#25a24a" stroke-width="0.18">CDK4 (Agilent SUREFISH) 12q14.1</text>
</svg>
</body></html>
